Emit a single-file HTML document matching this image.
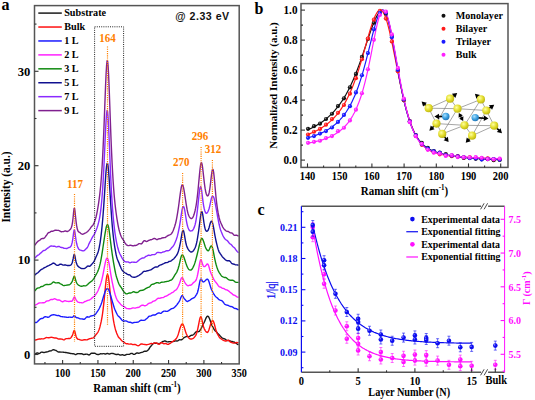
<!DOCTYPE html>
<html><head><meta charset="utf-8"><style>
html,body{margin:0;padding:0;background:#fff;}
body{width:535px;height:400px;overflow:hidden;}
svg{display:block;}
</style></head><body>
<svg width="535" height="400" viewBox="0 0 535 400">
<rect width="535" height="400" fill="#fff"/>
<text transform="translate(5.60,9.80) scale(1,1.0)" font-size="16" text-anchor="middle" fill="#000" font-family="Liberation Serif" font-weight="bold" >a</text>
<path d="M34.60,354.34 L35.10,354.06 L35.60,353.71 L36.10,353.40 L36.60,353.14 L37.10,352.97 L37.60,352.96 L38.10,353.13 L38.60,353.39 L39.10,353.52 L39.60,353.39 L40.10,353.03 L40.60,352.60 L41.10,352.28 L41.60,352.14 L42.10,352.17 L42.60,352.27 L43.10,352.37 L43.60,352.43 L44.10,352.45 L44.60,352.43 L45.10,352.34 L45.60,352.19 L46.10,352.04 L46.60,351.95 L47.10,351.90 L47.60,351.81 L48.10,351.62 L48.60,351.38 L49.10,351.16 L49.60,351.01 L50.10,350.95 L50.60,350.91 L51.10,350.80 L51.60,350.56 L52.10,350.25 L52.60,349.96 L53.10,349.79 L53.60,349.76 L54.10,349.84 L54.60,350.00 L55.10,350.16 L55.60,350.30 L56.10,350.50 L56.60,350.80 L57.10,351.19 L57.60,351.56 L58.10,351.83 L58.60,351.95 L59.10,351.97 L59.60,351.97 L60.10,352.02 L60.60,352.10 L61.10,352.17 L61.60,352.17 L62.10,352.12 L62.60,352.11 L63.10,352.17 L63.60,352.28 L64.10,352.38 L64.60,352.42 L65.10,352.44 L65.60,352.45 L66.10,352.49 L66.60,352.57 L67.10,352.72 L67.60,352.87 L68.10,352.95 L68.60,352.99 L69.10,353.07 L69.60,353.22 L70.10,353.40 L70.60,353.51 L71.10,353.56 L71.60,353.60 L72.10,353.65 L72.60,353.70 L73.10,353.73 L73.60,353.79 L74.10,353.96 L74.60,354.24 L75.10,354.48 L75.60,354.58 L76.10,354.47 L76.60,354.21 L77.10,353.94 L77.60,353.75 L78.10,353.68 L78.60,353.66 L79.10,353.66 L79.60,353.69 L80.10,353.74 L80.60,353.76 L81.10,353.72 L81.60,353.69 L82.10,353.79 L82.60,354.04 L83.10,354.31 L83.60,354.47 L84.10,354.47 L84.60,354.39 L85.10,354.29 L85.60,354.21 L86.10,354.15 L86.60,354.13 L87.10,354.18 L87.60,354.35 L88.10,354.61 L88.60,354.87 L89.10,354.96 L89.60,354.77 L90.10,354.32 L90.60,353.80 L91.10,353.39 L91.60,353.20 L92.10,353.18 L92.60,353.24 L93.10,353.30 L93.60,353.26 L94.10,353.18 L94.60,353.16 L95.10,353.32 L95.60,353.64 L96.10,354.00 L96.60,354.26 L97.10,354.39 L97.60,354.45 L98.10,354.50 L98.60,354.50 L99.10,354.37 L99.60,354.14 L100.10,353.89 L100.60,353.76 L101.10,353.78 L101.60,353.86 L102.10,353.88 L102.60,353.79 L103.10,353.67 L103.60,353.60 L104.10,353.65 L104.60,353.81 L105.10,353.99 L105.60,354.03 L106.10,353.87 L106.60,353.60 L107.10,353.44 L107.60,353.49 L108.10,353.71 L108.60,353.94 L109.10,354.05 L109.60,354.01 L110.10,353.85 L110.60,353.66 L111.10,353.50 L111.60,353.42 L112.10,353.40 L112.60,353.43 L113.10,353.50 L113.60,353.62 L114.10,353.80 L114.60,354.01 L115.10,354.20 L115.60,354.38 L116.10,354.51 L116.60,354.54 L117.10,354.45 L117.60,354.32 L118.10,354.27 L118.60,354.37 L119.10,354.58 L119.60,354.82 L120.10,355.00 L120.60,355.07 L121.10,355.02 L121.60,354.90 L122.10,354.78 L122.60,354.74 L123.10,354.85 L123.60,355.06 L124.10,355.28 L124.60,355.36 L125.10,355.24 L125.60,354.96 L126.10,354.67 L126.60,354.47 L127.10,354.37 L127.60,354.35 L128.10,354.39 L128.60,354.42 L129.10,354.39 L129.60,354.23 L130.10,353.96 L130.60,353.65 L131.10,353.40 L131.60,353.33 L132.10,353.45 L132.60,353.72 L133.10,354.03 L133.60,354.26 L134.10,354.35 L134.60,354.27 L135.10,354.02 L135.60,353.65 L136.10,353.30 L136.60,353.05 L137.10,352.95 L137.60,353.01 L138.10,353.13 L138.60,353.22 L139.10,353.20 L139.60,353.06 L140.10,352.87 L140.60,352.69 L141.10,352.55 L141.60,352.44 L142.10,352.30 L142.60,352.12 L143.10,351.86 L143.60,351.57 L144.10,351.32 L144.60,351.19 L145.10,351.19 L145.60,351.27 L146.10,351.28 L146.60,351.12 L147.10,350.81 L147.60,350.42 L148.10,350.03 L148.60,349.49 L149.10,348.77 L149.60,347.95 L150.10,347.14 L150.60,346.45 L151.10,345.92 L151.60,345.39 L152.10,344.79 L152.60,344.17 L153.10,343.60 L153.60,343.18 L154.10,343.06 L154.60,343.15 L155.10,343.27 L155.60,343.34 L156.10,343.30 L156.60,343.25 L157.10,343.30 L157.60,343.46 L158.10,343.62 L158.60,343.65 L159.10,343.56 L159.60,343.41 L160.10,343.23 L160.60,342.99 L161.10,342.68 L161.60,342.32 L162.10,341.97 L162.60,341.68 L163.10,341.47 L163.60,341.30 L164.10,341.16 L164.60,341.02 L165.10,340.98 L165.60,341.10 L166.10,341.36 L166.60,341.65 L167.10,341.84 L167.60,341.91 L168.10,341.86 L168.60,341.77 L169.10,341.69 L169.60,341.65 L170.10,341.65 L170.60,341.66 L171.10,341.65 L171.60,341.63 L172.10,341.62 L172.60,341.62 L173.10,341.56 L173.60,341.43 L174.10,341.25 L174.60,341.08 L175.10,340.95 L175.60,340.89 L176.10,340.91 L176.60,340.95 L177.10,340.95 L177.60,340.84 L178.10,340.59 L178.60,340.25 L179.10,339.94 L179.60,339.77 L180.10,339.76 L180.60,339.84 L181.10,339.88 L181.60,339.77 L182.10,339.48 L182.60,339.01 L183.10,338.46 L183.60,337.95 L184.10,337.56 L184.60,337.29 L185.10,337.08 L185.60,336.88 L186.10,336.69 L186.60,336.53 L187.10,336.45 L187.60,336.49 L188.10,336.61 L188.60,336.71 L189.10,336.67 L189.60,336.42 L190.10,336.01 L190.60,335.59 L191.10,335.32 L191.60,335.23 L192.10,335.20 L192.60,335.08 L193.10,334.82 L193.60,334.43 L194.10,333.95 L194.60,333.41 L195.10,332.85 L195.60,332.33 L196.10,331.91 L196.60,331.65 L197.10,331.55 L197.60,331.58 L198.10,331.67 L198.60,331.69 L199.10,331.47 L199.60,330.98 L200.10,330.26 L200.60,329.44 L201.10,328.55 L201.60,327.59 L202.10,326.53 L202.60,325.43 L203.10,324.40 L203.60,323.46 L204.10,322.52 L204.60,321.45 L205.10,320.24 L205.60,319.00 L206.10,317.88 L206.60,317.00 L207.10,316.42 L207.60,316.19 L208.10,316.33 L208.60,316.85 L209.10,317.73 L209.60,318.92 L210.10,320.34 L210.60,321.86 L211.10,323.32 L211.60,324.59 L212.10,325.66 L212.60,326.60 L213.10,327.54 L213.60,328.48 L214.10,329.38 L214.60,330.16 L215.10,330.74 L215.60,331.16 L216.10,331.54 L216.60,332.01 L217.10,332.61 L217.60,333.26 L218.10,333.83 L218.60,334.33 L219.10,334.82 L219.60,335.33 L220.10,335.86 L220.60,336.39 L221.10,336.91 L221.60,337.41 L222.10,337.86 L222.60,338.23 L223.10,338.51 L223.60,338.67 L224.10,338.76 L224.60,338.90 L225.10,339.15 L225.60,339.51 L226.10,339.91 L226.60,340.29 L227.10,340.56 L227.60,340.67 L228.10,340.62 L228.60,340.54 L229.10,340.56 L229.60,340.74 L230.10,341.01 L230.60,341.22 L231.10,341.34 L231.60,341.40 L232.10,341.51 L232.60,341.67 L233.10,341.84 L233.60,341.96 L234.10,342.06 L234.60,342.25 L235.10,342.55 L235.60,342.93 L236.10,343.30 L236.60,343.65 L237.10,343.99 L237.60,344.28 L238.10,344.50 L238.60,344.65" fill="none" stroke="#1a1a1a" stroke-width="1.4" stroke-linejoin="round" />
<path d="M34.60,340.29 L35.10,340.13 L35.60,339.95 L36.10,339.81 L36.60,339.71 L37.10,339.58 L37.60,339.41 L38.10,339.23 L38.60,339.11 L39.10,339.06 L39.60,339.04 L40.10,339.01 L40.60,338.94 L41.10,338.86 L41.60,338.81 L42.10,338.83 L42.60,338.88 L43.10,338.89 L43.60,338.80 L44.10,338.64 L44.60,338.42 L45.10,338.15 L45.60,337.87 L46.10,337.66 L46.60,337.56 L47.10,337.58 L47.60,337.67 L48.10,337.77 L48.60,337.80 L49.10,337.75 L49.60,337.62 L50.10,337.47 L50.60,337.34 L51.10,337.29 L51.60,337.32 L52.10,337.41 L52.60,337.50 L53.10,337.60 L53.60,337.71 L54.10,337.84 L54.60,337.95 L55.10,338.01 L55.60,338.01 L56.10,338.02 L56.60,338.12 L57.10,338.36 L57.60,338.66 L58.10,338.90 L58.60,339.00 L59.10,338.99 L59.60,338.96 L60.10,338.97 L60.60,339.02 L61.10,339.07 L61.60,339.11 L62.10,339.19 L62.60,339.39 L63.10,339.67 L63.60,339.88 L64.10,339.86 L64.60,339.56 L65.10,339.14 L65.60,338.82 L66.10,338.66 L66.60,338.64 L67.10,338.64 L67.60,338.60 L68.10,338.56 L68.60,338.52 L69.10,338.51 L69.60,338.46 L70.10,338.30 L70.60,337.96 L71.10,337.44 L71.60,336.78 L72.10,335.92 L72.60,334.78 L73.10,333.26 L73.60,331.58 L74.10,330.44 L74.60,330.75 L75.10,332.47 L75.60,334.62 L76.10,336.44 L76.60,337.73 L77.10,338.55 L77.60,339.02 L78.10,339.24 L78.60,339.33 L79.10,339.42 L79.60,339.57 L80.10,339.78 L80.60,339.97 L81.10,340.11 L81.60,340.18 L82.10,340.21 L82.60,340.15 L83.10,340.02 L83.60,339.84 L84.10,339.70 L84.60,339.65 L85.10,339.70 L85.60,339.81 L86.10,339.89 L86.60,339.88 L87.10,339.74 L87.60,339.52 L88.10,339.26 L88.60,339.03 L89.10,338.83 L89.60,338.71 L90.10,338.64 L90.60,338.55 L91.10,338.42 L91.60,338.28 L92.10,338.18 L92.60,338.11 L93.10,337.95 L93.60,337.61 L94.10,337.09 L94.60,336.46 L95.10,335.80 L95.60,335.17 L96.10,334.56 L96.60,333.94 L97.10,333.29 L97.60,332.60 L98.10,331.79 L98.60,330.78 L99.10,329.50 L99.60,327.94 L100.10,326.16 L100.60,324.16 L101.10,321.93 L101.60,319.44 L102.10,316.58 L102.60,313.26 L103.10,309.45 L103.60,305.16 L104.10,300.44 L104.60,295.37 L105.10,290.13 L105.60,285.02 L106.10,280.49 L106.60,277.01 L107.10,274.95 L107.60,274.52 L108.10,275.74 L108.60,278.48 L109.10,282.43 L109.60,287.14 L110.10,292.08 L110.60,296.88 L111.10,301.44 L111.60,305.85 L112.10,310.16 L112.60,314.23 L113.10,317.88 L113.60,321.02 L114.10,323.72 L114.60,326.09 L115.10,328.19 L115.60,330.03 L116.10,331.61 L116.60,332.96 L117.10,334.17 L117.60,335.33 L118.10,336.41 L118.60,337.31 L119.10,337.92 L119.60,338.32 L120.10,338.72 L120.60,339.28 L121.10,339.95 L121.60,340.58 L122.10,341.03 L122.60,341.34 L123.10,341.61 L123.60,341.93 L124.10,342.29 L124.60,342.68 L125.10,343.05 L125.60,343.37 L126.10,343.61 L126.60,343.73 L127.10,343.76 L127.60,343.78 L128.10,343.86 L128.60,344.00 L129.10,344.12 L129.60,344.14 L130.10,344.07 L130.60,344.00 L131.10,344.01 L131.60,344.14 L132.10,344.34 L132.60,344.51 L133.10,344.59 L133.60,344.56 L134.10,344.48 L134.60,344.43 L135.10,344.48 L135.60,344.64 L136.10,344.89 L136.60,345.19 L137.10,345.47 L137.60,345.67 L138.10,345.74 L138.60,345.64 L139.10,345.35 L139.60,344.96 L140.10,344.55 L140.60,344.23 L141.10,344.02 L141.60,343.95 L142.10,344.01 L142.60,344.15 L143.10,344.29 L143.60,344.38 L144.10,344.41 L144.60,344.43 L145.10,344.48 L145.60,344.59 L146.10,344.69 L146.60,344.72 L147.10,344.67 L147.60,344.56 L148.10,344.43 L148.60,344.31 L149.10,344.17 L149.60,344.00 L150.10,343.81 L150.60,343.63 L151.10,343.54 L151.60,343.56 L152.10,343.63 L152.60,343.65 L153.10,343.57 L153.60,343.40 L154.10,343.18 L154.60,342.99 L155.10,342.88 L155.60,342.87 L156.10,342.96 L156.60,343.12 L157.10,343.35 L157.60,343.66 L158.10,343.97 L158.60,344.21 L159.10,344.24 L159.60,344.03 L160.10,343.62 L160.60,343.15 L161.10,342.79 L161.60,342.64 L162.10,342.76 L162.60,343.09 L163.10,343.47 L163.60,343.71 L164.10,343.72 L164.60,343.58 L165.10,343.44 L165.60,343.44 L166.10,343.59 L166.60,343.88 L167.10,344.19 L167.60,344.40 L168.10,344.42 L168.60,344.25 L169.10,343.97 L169.60,343.68 L170.10,343.40 L170.60,343.06 L171.10,342.63 L171.60,342.18 L172.10,341.82 L172.60,341.54 L173.10,341.27 L173.60,340.92 L174.10,340.52 L174.60,340.14 L175.10,339.79 L175.60,339.37 L176.10,338.78 L176.60,338.01 L177.10,337.08 L177.60,335.99 L178.10,334.69 L178.60,333.15 L179.10,331.44 L179.60,329.71 L180.10,328.08 L180.60,326.64 L181.10,325.41 L181.60,324.44 L182.10,323.87 L182.60,323.87 L183.10,324.49 L183.60,325.62 L184.10,327.05 L184.60,328.61 L185.10,330.24 L185.60,331.81 L186.10,333.21 L186.60,334.37 L187.10,335.29 L187.60,336.10 L188.10,336.87 L188.60,337.61 L189.10,338.26 L189.60,338.69 L190.10,338.92 L190.60,339.00 L191.10,339.02 L191.60,338.97 L192.10,338.86 L192.60,338.66 L193.10,338.35 L193.60,337.93 L194.10,337.44 L194.60,336.91 L195.10,336.33 L195.60,335.61 L196.10,334.64 L196.60,333.32 L197.10,331.60 L197.60,329.56 L198.10,327.25 L198.60,324.75 L199.10,322.16 L199.60,319.68 L200.10,317.72 L200.60,316.72 L201.10,316.95 L201.60,318.33 L202.10,320.45 L202.60,322.83 L203.10,325.05 L203.60,326.90 L204.10,328.34 L204.60,329.45 L205.10,330.36 L205.60,331.12 L206.10,331.75 L206.60,332.23 L207.10,332.45 L207.60,332.32 L208.10,331.73 L208.60,330.70 L209.10,329.28 L209.60,327.62 L210.10,325.89 L210.60,324.26 L211.10,322.83 L211.60,321.66 L212.10,320.87 L212.60,320.58 L213.10,320.90 L213.60,321.81 L214.10,323.22 L214.60,325.01 L215.10,327.03 L215.60,329.05 L216.10,330.82 L216.60,332.22 L217.10,333.30 L217.60,334.22 L218.10,335.10 L218.60,336.00 L219.10,336.87 L219.60,337.62 L220.10,338.15 L220.60,338.50 L221.10,338.78 L221.60,339.11 L222.10,339.49 L222.60,339.83 L223.10,340.10 L223.60,340.34 L224.10,340.58 L224.60,340.79 L225.10,340.93 L225.60,340.99 L226.10,340.95 L226.60,340.78 L227.10,340.50 L227.60,340.23 L228.10,340.16 L228.60,340.39 L229.10,340.85 L229.60,341.39 L230.10,341.84 L230.60,342.14 L231.10,342.34 L231.60,342.49 L232.10,342.65 L232.60,342.81 L233.10,342.97 L233.60,343.11 L234.10,343.17 L234.60,343.12 L235.10,342.98 L235.60,342.78 L236.10,342.59 L236.60,342.50 L237.10,342.52 L237.60,342.64 L238.10,342.79 L238.60,342.92" fill="none" stroke="#ff1010" stroke-width="1.4" stroke-linejoin="round" />
<path d="M34.60,322.54 L35.10,322.49 L35.60,322.53 L36.10,322.50 L36.60,322.34 L37.10,322.03 L37.60,321.59 L38.10,321.06 L38.60,320.54 L39.10,320.04 L39.60,319.57 L40.10,319.11 L40.60,318.74 L41.10,318.53 L41.60,318.48 L42.10,318.48 L42.60,318.37 L43.10,318.06 L43.60,317.62 L44.10,317.19 L44.60,316.91 L45.10,316.79 L45.60,316.79 L46.10,316.83 L46.60,316.92 L47.10,317.05 L47.60,317.21 L48.10,317.27 L48.60,317.16 L49.10,316.87 L49.60,316.47 L50.10,316.05 L50.60,315.69 L51.10,315.39 L51.60,315.14 L52.10,314.95 L52.60,314.85 L53.10,314.80 L53.60,314.78 L54.10,314.78 L54.60,314.83 L55.10,314.93 L55.60,315.07 L56.10,315.23 L56.60,315.41 L57.10,315.57 L57.60,315.62 L58.10,315.55 L58.60,315.48 L59.10,315.57 L59.60,315.86 L60.10,316.23 L60.60,316.49 L61.10,316.58 L61.60,316.60 L62.10,316.64 L62.60,316.74 L63.10,316.84 L63.60,316.89 L64.10,316.90 L64.60,316.93 L65.10,317.00 L65.60,317.07 L66.10,317.14 L66.60,317.23 L67.10,317.33 L67.60,317.38 L68.10,317.34 L68.60,317.23 L69.10,317.14 L69.60,317.12 L70.10,317.15 L70.60,317.21 L71.10,317.31 L71.60,317.40 L72.10,317.38 L72.60,317.15 L73.10,316.68 L73.60,316.07 L74.10,315.61 L74.60,315.69 L75.10,316.29 L75.60,316.98 L76.10,317.47 L76.60,317.70 L77.10,317.77 L77.60,317.82 L78.10,317.93 L78.60,318.13 L79.10,318.37 L79.60,318.61 L80.10,318.79 L80.60,318.89 L81.10,318.91 L81.60,318.90 L82.10,318.93 L82.60,319.03 L83.10,319.18 L83.60,319.30 L84.10,319.29 L84.60,319.08 L85.10,318.66 L85.60,318.12 L86.10,317.54 L86.60,317.05 L87.10,316.79 L87.60,316.81 L88.10,316.98 L88.60,317.10 L89.10,317.01 L89.60,316.76 L90.10,316.46 L90.60,316.20 L91.10,316.00 L91.60,315.84 L92.10,315.73 L92.60,315.63 L93.10,315.55 L93.60,315.42 L94.10,315.21 L94.60,314.89 L95.10,314.48 L95.60,313.98 L96.10,313.39 L96.60,312.69 L97.10,311.94 L97.60,311.18 L98.10,310.44 L98.60,309.66 L99.10,308.76 L99.60,307.75 L100.10,306.65 L100.60,305.50 L101.10,304.27 L101.60,302.89 L102.10,301.32 L102.60,299.62 L103.10,297.89 L103.60,296.22 L104.10,294.67 L104.60,293.21 L105.10,291.85 L105.60,290.65 L106.10,289.71 L106.60,289.05 L107.10,288.68 L107.60,288.61 L108.10,288.93 L108.60,289.68 L109.10,290.81 L109.60,292.23 L110.10,293.83 L110.60,295.55 L111.10,297.31 L111.60,299.05 L112.10,300.73 L112.60,302.39 L113.10,304.04 L113.60,305.67 L114.10,307.25 L114.60,308.71 L115.10,310.02 L115.60,311.17 L116.10,312.22 L116.60,313.27 L117.10,314.28 L117.60,315.18 L118.10,315.88 L118.60,316.39 L119.10,316.83 L119.60,317.30 L120.10,317.84 L120.60,318.45 L121.10,319.06 L121.60,319.67 L122.10,320.21 L122.60,320.66 L123.10,320.97 L123.60,321.12 L124.10,321.09 L124.60,320.95 L125.10,320.84 L125.60,320.86 L126.10,320.98 L126.60,321.13 L127.10,321.32 L127.60,321.58 L128.10,321.87 L128.60,322.09 L129.10,322.19 L129.60,322.20 L130.10,322.22 L130.60,322.31 L131.10,322.51 L131.60,322.75 L132.10,322.93 L132.60,322.98 L133.10,322.87 L133.60,322.68 L134.10,322.50 L134.60,322.38 L135.10,322.35 L135.60,322.36 L136.10,322.37 L136.60,322.32 L137.10,322.22 L137.60,322.11 L138.10,321.98 L138.60,321.78 L139.10,321.47 L139.60,321.06 L140.10,320.63 L140.60,320.33 L141.10,320.21 L141.60,320.24 L142.10,320.31 L142.60,320.34 L143.10,320.35 L143.60,320.35 L144.10,320.30 L144.60,320.14 L145.10,319.83 L145.60,319.43 L146.10,319.02 L146.60,318.64 L147.10,318.24 L147.60,317.76 L148.10,317.20 L148.60,316.64 L149.10,316.24 L149.60,316.09 L150.10,316.10 L150.60,316.10 L151.10,315.94 L151.60,315.63 L152.10,315.32 L152.60,315.11 L153.10,315.00 L153.60,314.96 L154.10,314.98 L154.60,314.99 L155.10,314.93 L155.60,314.75 L156.10,314.43 L156.60,314.05 L157.10,313.67 L157.60,313.38 L158.10,313.16 L158.60,313.02 L159.10,312.97 L159.60,313.04 L160.10,313.21 L160.60,313.32 L161.10,313.22 L161.60,312.85 L162.10,312.35 L162.60,311.88 L163.10,311.52 L163.60,311.29 L164.10,311.16 L164.60,311.12 L165.10,311.15 L165.60,311.22 L166.10,311.30 L166.60,311.35 L167.10,311.34 L167.60,311.22 L168.10,311.00 L168.60,310.68 L169.10,310.32 L169.60,309.95 L170.10,309.59 L170.60,309.24 L171.10,308.94 L171.60,308.72 L172.10,308.56 L172.60,308.44 L173.10,308.28 L173.60,308.04 L174.10,307.70 L174.60,307.25 L175.10,306.72 L175.60,306.17 L176.10,305.65 L176.60,305.11 L177.10,304.48 L177.60,303.77 L178.10,303.06 L178.60,302.38 L179.10,301.65 L179.60,300.74 L180.10,299.60 L180.60,298.27 L181.10,296.95 L181.60,295.95 L182.10,295.57 L182.60,295.89 L183.10,296.69 L183.60,297.62 L184.10,298.42 L184.60,299.03 L185.10,299.57 L185.60,300.14 L186.10,300.74 L186.60,301.24 L187.10,301.50 L187.60,301.47 L188.10,301.21 L188.60,300.87 L189.10,300.56 L189.60,300.31 L190.10,300.04 L190.60,299.69 L191.10,299.29 L191.60,298.90 L192.10,298.60 L192.60,298.39 L193.10,298.21 L193.60,298.02 L194.10,297.72 L194.60,297.24 L195.10,296.58 L195.60,295.81 L196.10,295.07 L196.60,294.34 L197.10,293.44 L197.60,292.13 L198.10,290.28 L198.60,287.94 L199.10,285.29 L199.60,282.64 L200.10,280.45 L200.60,279.20 L201.10,279.05 L201.60,279.70 L202.10,280.65 L202.60,281.47 L203.10,281.92 L203.60,281.95 L204.10,281.68 L204.60,281.28 L205.10,280.84 L205.60,280.37 L206.10,279.86 L206.60,279.39 L207.10,279.13 L207.60,279.22 L208.10,279.73 L208.60,280.69 L209.10,282.04 L209.60,283.67 L210.10,285.38 L210.60,287.01 L211.10,288.45 L211.60,289.68 L212.10,290.75 L212.60,291.75 L213.10,292.74 L213.60,293.67 L214.10,294.50 L214.60,295.22 L215.10,295.87 L215.60,296.44 L216.10,296.92 L216.60,297.33 L217.10,297.72 L217.60,298.15 L218.10,298.65 L218.60,299.16 L219.10,299.61 L219.60,299.96 L220.10,300.18 L220.60,300.32 L221.10,300.42 L221.60,300.59 L222.10,300.89 L222.60,301.37 L223.10,302.00 L223.60,302.70 L224.10,303.37 L224.60,303.95 L225.10,304.38 L225.60,304.68 L226.10,304.88 L226.60,305.02 L227.10,305.13 L227.60,305.27 L228.10,305.46 L228.60,305.70 L229.10,305.97 L229.60,306.19 L230.10,306.35 L230.60,306.46 L231.10,306.55 L231.60,306.65 L232.10,306.79 L232.60,307.00 L233.10,307.31 L233.60,307.71 L234.10,308.10 L234.60,308.38 L235.10,308.51 L235.60,308.56 L236.10,308.62 L236.60,308.78 L237.10,309.06 L237.60,309.39 L238.10,309.71 L238.60,310.00" fill="none" stroke="#1a1aff" stroke-width="1.4" stroke-linejoin="round" />
<path d="M34.60,305.43 L35.10,305.16 L35.60,304.91 L36.10,304.67 L36.60,304.41 L37.10,304.10 L37.60,303.77 L38.10,303.49 L38.60,303.24 L39.10,303.03 L39.60,302.88 L40.10,302.83 L40.60,302.86 L41.10,302.90 L41.60,302.92 L42.10,302.89 L42.60,302.81 L43.10,302.74 L43.60,302.71 L44.10,302.69 L44.60,302.56 L45.10,302.24 L45.60,301.80 L46.10,301.36 L46.60,301.07 L47.10,300.93 L47.60,300.89 L48.10,300.86 L48.60,300.76 L49.10,300.54 L49.60,300.23 L50.10,299.88 L50.60,299.61 L51.10,299.49 L51.60,299.50 L52.10,299.53 L52.60,299.49 L53.10,299.34 L53.60,299.12 L54.10,298.91 L54.60,298.80 L55.10,298.87 L55.60,299.09 L56.10,299.39 L56.60,299.70 L57.10,299.93 L57.60,300.03 L58.10,300.01 L58.60,299.96 L59.10,300.00 L59.60,300.17 L60.10,300.44 L60.60,300.78 L61.10,301.13 L61.60,301.46 L62.10,301.70 L62.60,301.74 L63.10,301.58 L63.60,301.28 L64.10,300.99 L64.60,300.81 L65.10,300.79 L65.60,300.90 L66.10,301.06 L66.60,301.19 L67.10,301.28 L67.60,301.35 L68.10,301.42 L68.60,301.49 L69.10,301.47 L69.60,301.36 L70.10,301.23 L70.60,301.20 L71.10,301.28 L71.60,301.29 L72.10,301.05 L72.60,300.41 L73.10,299.38 L73.60,298.13 L74.10,297.13 L74.60,296.99 L75.10,297.72 L75.60,298.80 L76.10,299.82 L76.60,300.67 L77.10,301.33 L77.60,301.80 L78.10,302.10 L78.60,302.29 L79.10,302.44 L79.60,302.54 L80.10,302.59 L80.60,302.62 L81.10,302.67 L81.60,302.75 L82.10,302.84 L82.60,302.85 L83.10,302.70 L83.60,302.39 L84.10,302.03 L84.60,301.71 L85.10,301.49 L85.60,301.29 L86.10,301.05 L86.60,300.78 L87.10,300.57 L87.60,300.44 L88.10,300.34 L88.60,300.19 L89.10,300.00 L89.60,299.78 L90.10,299.53 L90.60,299.22 L91.10,298.83 L91.60,298.37 L92.10,297.89 L92.60,297.45 L93.10,297.07 L93.60,296.74 L94.10,296.40 L94.60,295.95 L95.10,295.35 L95.60,294.64 L96.10,293.89 L96.60,293.14 L97.10,292.36 L97.60,291.48 L98.10,290.45 L98.60,289.28 L99.10,288.03 L99.60,286.77 L100.10,285.46 L100.60,284.01 L101.10,282.38 L101.60,280.57 L102.10,278.58 L102.60,276.40 L103.10,274.00 L103.60,271.41 L104.10,268.73 L104.60,266.07 L105.10,263.57 L105.60,261.37 L106.10,259.63 L106.60,258.50 L107.10,258.09 L107.60,258.46 L108.10,259.57 L108.60,261.35 L109.10,263.74 L109.60,266.62 L110.10,269.79 L110.60,273.02 L111.10,276.10 L111.60,278.93 L112.10,281.51 L112.60,283.93 L113.10,286.25 L113.60,288.50 L114.10,290.64 L114.60,292.63 L115.10,294.45 L115.60,296.11 L116.10,297.56 L116.60,298.77 L117.10,299.77 L117.60,300.59 L118.10,301.29 L118.60,301.91 L119.10,302.49 L119.60,303.06 L120.10,303.65 L120.60,304.23 L121.10,304.78 L121.60,305.28 L122.10,305.68 L122.60,305.97 L123.10,306.19 L123.60,306.38 L124.10,306.60 L124.60,306.92 L125.10,307.34 L125.60,307.80 L126.10,308.21 L126.60,308.47 L127.10,308.58 L127.60,308.61 L128.10,308.64 L128.60,308.71 L129.10,308.79 L129.60,308.80 L130.10,308.74 L130.60,308.63 L131.10,308.50 L131.60,308.35 L132.10,308.15 L132.60,307.97 L133.10,307.87 L133.60,307.91 L134.10,308.03 L134.60,308.12 L135.10,308.11 L135.60,307.98 L136.10,307.81 L136.60,307.67 L137.10,307.57 L137.60,307.54 L138.10,307.52 L138.60,307.42 L139.10,307.19 L139.60,306.82 L140.10,306.40 L140.60,306.01 L141.10,305.67 L141.60,305.39 L142.10,305.19 L142.60,305.12 L143.10,305.22 L143.60,305.43 L144.10,305.64 L144.60,305.76 L145.10,305.75 L145.60,305.64 L146.10,305.44 L146.60,305.12 L147.10,304.68 L147.60,304.21 L148.10,303.80 L148.60,303.50 L149.10,303.28 L149.60,303.12 L150.10,303.01 L150.60,302.92 L151.10,302.78 L151.60,302.50 L152.10,302.07 L152.60,301.61 L153.10,301.25 L153.60,301.07 L154.10,301.01 L154.60,300.93 L155.10,300.71 L155.60,300.33 L156.10,299.88 L156.60,299.38 L157.10,298.90 L157.60,298.50 L158.10,298.28 L158.60,298.26 L159.10,298.32 L159.60,298.32 L160.10,298.20 L160.60,298.01 L161.10,297.84 L161.60,297.73 L162.10,297.66 L162.60,297.59 L163.10,297.48 L163.60,297.28 L164.10,297.01 L164.60,296.71 L165.10,296.46 L165.60,296.29 L166.10,296.15 L166.60,295.99 L167.10,295.73 L167.60,295.37 L168.10,294.96 L168.60,294.59 L169.10,294.30 L169.60,294.07 L170.10,293.85 L170.60,293.57 L171.10,293.27 L171.60,292.98 L172.10,292.71 L172.60,292.44 L173.10,292.12 L173.60,291.71 L174.10,291.24 L174.60,290.80 L175.10,290.45 L175.60,290.17 L176.10,289.83 L176.60,289.31 L177.10,288.59 L177.60,287.73 L178.10,286.77 L178.60,285.75 L179.10,284.63 L179.60,283.33 L180.10,281.82 L180.60,280.21 L181.10,278.74 L181.60,277.76 L182.10,277.51 L182.60,277.98 L183.10,278.91 L183.60,280.00 L184.10,281.05 L184.60,282.00 L185.10,282.85 L185.60,283.60 L186.10,284.27 L186.60,284.85 L187.10,285.31 L187.60,285.60 L188.10,285.70 L188.60,285.61 L189.10,285.42 L189.60,285.26 L190.10,285.20 L190.60,285.18 L191.10,285.05 L191.60,284.69 L192.10,284.13 L192.60,283.51 L193.10,282.95 L193.60,282.49 L194.10,282.10 L194.60,281.73 L195.10,281.32 L195.60,280.77 L196.10,279.93 L196.60,278.67 L197.10,276.92 L197.60,274.76 L198.10,272.26 L198.60,269.51 L199.10,266.57 L199.60,263.63 L200.10,261.16 L200.60,259.76 L201.10,259.76 L201.60,260.93 L202.10,262.65 L202.60,264.33 L203.10,265.58 L203.60,266.31 L204.10,266.60 L204.60,266.57 L205.10,266.32 L205.60,265.87 L206.10,265.25 L206.60,264.57 L207.10,264.06 L207.60,263.97 L208.10,264.50 L208.60,265.63 L209.10,267.22 L209.60,269.00 L210.10,270.71 L210.60,272.21 L211.10,273.48 L211.60,274.59 L212.10,275.65 L212.60,276.70 L213.10,277.79 L213.60,278.85 L214.10,279.82 L214.60,280.64 L215.10,281.34 L215.60,282.00 L216.10,282.64 L216.60,283.28 L217.10,283.93 L217.60,284.62 L218.10,285.34 L218.60,286.01 L219.10,286.54 L219.60,286.83 L220.10,286.96 L220.60,287.08 L221.10,287.35 L221.60,287.75 L222.10,288.12 L222.60,288.31 L223.10,288.37 L223.60,288.45 L224.10,288.66 L224.60,288.99 L225.10,289.34 L225.60,289.61 L226.10,289.78 L226.60,289.88 L227.10,290.02 L227.60,290.24 L228.10,290.57 L228.60,290.96 L229.10,291.37 L229.60,291.80 L230.10,292.23 L230.60,292.62 L231.10,292.99 L231.60,293.39 L232.10,293.85 L232.60,294.34 L233.10,294.75 L233.60,295.00 L234.10,295.15 L234.60,295.28 L235.10,295.50 L235.60,295.82 L236.10,296.20 L236.60,296.59 L237.10,296.91 L237.60,297.12 L238.10,297.22 L238.60,297.33" fill="none" stroke="#ff20ff" stroke-width="1.4" stroke-linejoin="round" />
<path d="M34.60,290.87 L35.10,290.44 L35.60,289.90 L36.10,289.34 L36.60,288.81 L37.10,288.37 L37.60,288.08 L38.10,287.95 L38.60,287.92 L39.10,287.84 L39.60,287.61 L40.10,287.24 L40.60,286.85 L41.10,286.57 L41.60,286.47 L42.10,286.45 L42.60,286.37 L43.10,286.14 L43.60,285.77 L44.10,285.36 L44.60,285.03 L45.10,284.81 L45.60,284.67 L46.10,284.55 L46.60,284.46 L47.10,284.44 L47.60,284.51 L48.10,284.60 L48.60,284.63 L49.10,284.55 L49.60,284.39 L50.10,284.22 L50.60,284.05 L51.10,283.82 L51.60,283.48 L52.10,283.03 L52.60,282.54 L53.10,282.15 L53.60,282.00 L54.10,282.15 L54.60,282.46 L55.10,282.74 L55.60,282.88 L56.10,282.91 L56.60,282.90 L57.10,282.87 L57.60,282.80 L58.10,282.72 L58.60,282.72 L59.10,282.92 L59.60,283.28 L60.10,283.65 L60.60,283.92 L61.10,284.11 L61.60,284.32 L62.10,284.64 L62.60,285.03 L63.10,285.39 L63.60,285.58 L64.10,285.58 L64.60,285.50 L65.10,285.42 L65.60,285.37 L66.10,285.29 L66.60,285.18 L67.10,285.07 L67.60,284.99 L68.10,284.95 L68.60,284.90 L69.10,284.78 L69.60,284.55 L70.10,284.21 L70.60,283.75 L71.10,283.17 L71.60,282.48 L72.10,281.63 L72.60,280.53 L73.10,279.09 L73.60,277.43 L74.10,276.21 L74.60,276.36 L75.10,277.89 L75.60,279.87 L76.10,281.54 L76.60,282.76 L77.10,283.62 L77.60,284.24 L78.10,284.71 L78.60,285.09 L79.10,285.42 L79.60,285.71 L80.10,285.94 L80.60,286.13 L81.10,286.25 L81.60,286.28 L82.10,286.20 L82.60,286.05 L83.10,285.90 L83.60,285.81 L84.10,285.81 L84.60,285.86 L85.10,285.89 L85.60,285.82 L86.10,285.60 L86.60,285.27 L87.10,284.86 L87.60,284.41 L88.10,283.92 L88.60,283.45 L89.10,283.04 L89.60,282.67 L90.10,282.29 L90.60,281.91 L91.10,281.53 L91.60,281.14 L92.10,280.67 L92.60,280.11 L93.10,279.48 L93.60,278.79 L94.10,278.01 L94.60,277.17 L95.10,276.30 L95.60,275.44 L96.10,274.59 L96.60,273.70 L97.10,272.76 L97.60,271.75 L98.10,270.62 L98.60,269.28 L99.10,267.71 L99.60,265.91 L100.10,263.90 L100.60,261.64 L101.10,259.08 L101.60,256.22 L102.10,253.12 L102.60,249.86 L103.10,246.52 L103.60,243.15 L104.10,239.79 L104.60,236.51 L105.10,233.39 L105.60,230.50 L106.10,227.97 L106.60,226.02 L107.10,224.85 L107.60,224.65 L108.10,225.52 L108.60,227.42 L109.10,230.23 L109.60,233.77 L110.10,237.76 L110.60,241.85 L111.10,245.83 L111.60,249.62 L112.10,253.24 L112.60,256.66 L113.10,259.84 L113.60,262.79 L114.10,265.61 L114.60,268.36 L115.10,271.00 L115.60,273.40 L116.10,275.45 L116.60,277.20 L117.10,278.80 L117.60,280.36 L118.10,281.83 L118.60,283.16 L119.10,284.30 L119.60,285.24 L120.10,286.01 L120.60,286.68 L121.10,287.36 L121.60,288.12 L122.10,288.96 L122.60,289.81 L123.10,290.61 L123.60,291.32 L124.10,291.98 L124.60,292.60 L125.10,293.14 L125.60,293.53 L126.10,293.75 L126.60,293.83 L127.10,293.79 L127.60,293.65 L128.10,293.44 L128.60,293.21 L129.10,293.05 L129.60,293.00 L130.10,293.00 L130.60,292.97 L131.10,292.85 L131.60,292.66 L132.10,292.42 L132.60,292.16 L133.10,291.92 L133.60,291.78 L134.10,291.80 L134.60,292.00 L135.10,292.27 L135.60,292.47 L136.10,292.55 L136.60,292.52 L137.10,292.46 L137.60,292.35 L138.10,292.12 L138.60,291.72 L139.10,291.27 L139.60,290.88 L140.10,290.65 L140.60,290.54 L141.10,290.47 L141.60,290.38 L142.10,290.27 L142.60,290.20 L143.10,290.13 L143.60,290.00 L144.10,289.74 L144.60,289.37 L145.10,289.00 L145.60,288.67 L146.10,288.38 L146.60,288.09 L147.10,287.81 L147.60,287.56 L148.10,287.37 L148.60,287.24 L149.10,287.09 L149.60,286.77 L150.10,286.24 L150.60,285.58 L151.10,284.96 L151.60,284.54 L152.10,284.35 L152.60,284.28 L153.10,284.21 L153.60,284.03 L154.10,283.79 L154.60,283.54 L155.10,283.33 L155.60,283.14 L156.10,282.94 L156.60,282.73 L157.10,282.59 L157.60,282.58 L158.10,282.73 L158.60,282.96 L159.10,283.11 L159.60,283.08 L160.10,282.89 L160.60,282.65 L161.10,282.45 L161.60,282.29 L162.10,282.18 L162.60,282.15 L163.10,282.16 L163.60,282.16 L164.10,282.08 L164.60,281.93 L165.10,281.77 L165.60,281.65 L166.10,281.57 L166.60,281.50 L167.10,281.43 L167.60,281.33 L168.10,281.20 L168.60,281.06 L169.10,280.87 L169.60,280.66 L170.10,280.44 L170.60,280.24 L171.10,280.05 L171.60,279.80 L172.10,279.39 L172.60,278.76 L173.10,277.98 L173.60,277.14 L174.10,276.30 L174.60,275.49 L175.10,274.71 L175.60,273.97 L176.10,273.21 L176.60,272.36 L177.10,271.35 L177.60,270.13 L178.10,268.70 L178.60,267.06 L179.10,265.20 L179.60,263.12 L180.10,260.89 L180.60,258.69 L181.10,256.81 L181.60,255.49 L182.10,254.88 L182.60,254.95 L183.10,255.57 L183.60,256.58 L184.10,257.84 L184.60,259.29 L185.10,260.82 L185.60,262.35 L186.10,263.80 L186.60,265.15 L187.10,266.38 L187.60,267.48 L188.10,268.41 L188.60,269.13 L189.10,269.61 L189.60,269.90 L190.10,270.05 L190.60,270.09 L191.10,269.96 L191.60,269.62 L192.10,269.04 L192.60,268.24 L193.10,267.26 L193.60,266.15 L194.10,264.95 L194.60,263.64 L195.10,262.17 L195.60,260.51 L196.10,258.68 L196.60,256.77 L197.10,254.78 L197.60,252.71 L198.10,250.54 L198.60,248.35 L199.10,246.22 L199.60,244.18 L200.10,242.23 L200.60,240.48 L201.10,239.17 L201.60,238.52 L202.10,238.55 L202.60,239.16 L203.10,240.20 L203.60,241.53 L204.10,243.04 L204.60,244.64 L205.10,246.19 L205.60,247.56 L206.10,248.65 L206.60,249.48 L207.10,250.11 L207.60,250.56 L208.10,250.74 L208.60,250.51 L209.10,249.81 L209.60,248.71 L210.10,247.49 L210.60,246.44 L211.10,245.85 L211.60,245.92 L212.10,246.73 L212.60,248.27 L213.10,250.41 L213.60,252.94 L214.10,255.58 L214.60,258.13 L215.10,260.46 L215.60,262.57 L216.10,264.49 L216.60,266.22 L217.10,267.78 L217.60,269.16 L218.10,270.36 L218.60,271.41 L219.10,272.34 L219.60,273.18 L220.10,273.96 L220.60,274.71 L221.10,275.39 L221.60,275.95 L222.10,276.37 L222.60,276.70 L223.10,276.97 L223.60,277.20 L224.10,277.36 L224.60,277.44 L225.10,277.47 L225.60,277.52 L226.10,277.68 L226.60,278.00 L227.10,278.42 L227.60,278.87 L228.10,279.26 L228.60,279.57 L229.10,279.81 L229.60,279.99 L230.10,280.14 L230.60,280.24 L231.10,280.27 L231.60,280.25 L232.10,280.22 L232.60,280.25 L233.10,280.40 L233.60,280.67 L234.10,281.02 L234.60,281.43 L235.10,281.83 L235.60,282.14 L236.10,282.31 L236.60,282.35 L237.10,282.33 L237.60,282.34 L238.10,282.40 L238.60,282.48" fill="none" stroke="#108a10" stroke-width="1.4" stroke-linejoin="round" />
<path d="M34.60,275.32 L35.10,274.82 L35.60,274.32 L36.10,273.87 L36.60,273.51 L37.10,273.21 L37.60,272.91 L38.10,272.54 L38.60,272.08 L39.10,271.54 L39.60,270.98 L40.10,270.48 L40.60,270.05 L41.10,269.68 L41.60,269.37 L42.10,269.08 L42.60,268.80 L43.10,268.52 L43.60,268.20 L44.10,267.88 L44.60,267.56 L45.10,267.29 L45.60,267.05 L46.10,266.79 L46.60,266.51 L47.10,266.25 L47.60,266.03 L48.10,265.86 L48.60,265.68 L49.10,265.44 L49.60,265.15 L50.10,264.88 L50.60,264.65 L51.10,264.42 L51.60,264.13 L52.10,263.74 L52.60,263.35 L53.10,263.10 L53.60,263.06 L54.10,263.24 L54.60,263.57 L55.10,263.97 L55.60,264.40 L56.10,264.79 L56.60,265.09 L57.10,265.28 L57.60,265.34 L58.10,265.27 L58.60,265.07 L59.10,264.78 L59.60,264.48 L60.10,264.24 L60.60,264.15 L61.10,264.19 L61.60,264.36 L62.10,264.60 L62.60,264.86 L63.10,265.04 L63.60,265.09 L64.10,265.03 L64.60,264.95 L65.10,264.94 L65.60,265.03 L66.10,265.17 L66.60,265.32 L67.10,265.43 L67.60,265.49 L68.10,265.52 L68.60,265.52 L69.10,265.51 L69.60,265.45 L70.10,265.31 L70.60,265.09 L71.10,264.72 L71.60,264.08 L72.10,262.97 L72.60,261.26 L73.10,258.95 L73.60,256.36 L74.10,254.54 L74.60,254.80 L75.10,257.02 L75.60,259.73 L76.10,261.99 L76.60,263.64 L77.10,264.85 L77.60,265.74 L78.10,266.37 L78.60,266.79 L79.10,267.10 L79.60,267.40 L80.10,267.74 L80.60,268.08 L81.10,268.33 L81.60,268.46 L82.10,268.52 L82.60,268.59 L83.10,268.67 L83.60,268.67 L84.10,268.53 L84.60,268.29 L85.10,268.03 L85.60,267.76 L86.10,267.41 L86.60,266.94 L87.10,266.43 L87.60,266.07 L88.10,265.97 L88.60,266.10 L89.10,266.27 L89.60,266.27 L90.10,266.01 L90.60,265.54 L91.10,264.99 L91.60,264.45 L92.10,263.89 L92.60,263.33 L93.10,262.73 L93.60,262.05 L94.10,261.22 L94.60,260.22 L95.10,259.10 L95.60,257.94 L96.10,256.80 L96.60,255.69 L97.10,254.58 L97.60,253.38 L98.10,251.98 L98.60,250.24 L99.10,248.08 L99.60,245.50 L100.10,242.54 L100.60,239.17 L101.10,235.32 L101.60,230.92 L102.10,225.98 L102.60,220.51 L103.10,214.48 L103.60,207.85 L104.10,200.60 L104.60,192.87 L105.10,184.96 L105.60,177.38 L106.10,170.79 L106.60,165.92 L107.10,163.36 L107.60,163.47 L108.10,166.24 L108.60,171.32 L109.10,178.10 L109.60,185.87 L110.10,194.05 L110.60,202.20 L111.10,210.01 L111.60,217.24 L112.10,223.73 L112.60,229.43 L113.10,234.40 L113.60,238.76 L114.10,242.62 L114.60,246.07 L115.10,249.17 L115.60,251.98 L116.10,254.50 L116.60,256.67 L117.10,258.44 L117.60,259.82 L118.10,260.98 L118.60,262.12 L119.10,263.36 L119.60,264.65 L120.10,265.90 L120.60,267.07 L121.10,268.19 L121.60,269.24 L122.10,270.13 L122.60,270.81 L123.10,271.32 L123.60,271.73 L124.10,272.11 L124.60,272.47 L125.10,272.78 L125.60,273.06 L126.10,273.34 L126.60,273.69 L127.10,274.10 L127.60,274.47 L128.10,274.69 L128.60,274.75 L129.10,274.77 L129.60,274.89 L130.10,275.19 L130.60,275.64 L131.10,276.17 L131.60,276.63 L132.10,276.93 L132.60,277.08 L133.10,277.16 L133.60,277.20 L134.10,277.22 L134.60,277.19 L135.10,277.10 L135.60,276.99 L136.10,276.86 L136.60,276.65 L137.10,276.37 L137.60,276.08 L138.10,275.82 L138.60,275.58 L139.10,275.29 L139.60,274.95 L140.10,274.60 L140.60,274.26 L141.10,273.93 L141.60,273.53 L142.10,273.02 L142.60,272.43 L143.10,271.87 L143.60,271.49 L144.10,271.34 L144.60,271.32 L145.10,271.34 L145.60,271.31 L146.10,271.19 L146.60,271.02 L147.10,270.87 L147.60,270.75 L148.10,270.63 L148.60,270.48 L149.10,270.31 L149.60,270.17 L150.10,270.06 L150.60,269.94 L151.10,269.73 L151.60,269.43 L152.10,269.04 L152.60,268.65 L153.10,268.30 L153.60,268.00 L154.10,267.70 L154.60,267.39 L155.10,267.14 L155.60,266.98 L156.10,266.93 L156.60,266.95 L157.10,266.96 L157.60,266.84 L158.10,266.54 L158.60,266.09 L159.10,265.63 L159.60,265.27 L160.10,265.05 L160.60,264.91 L161.10,264.76 L161.60,264.55 L162.10,264.31 L162.60,264.08 L163.10,263.87 L163.60,263.67 L164.10,263.45 L164.60,263.18 L165.10,262.90 L165.60,262.69 L166.10,262.60 L166.60,262.59 L167.10,262.57 L167.60,262.41 L168.10,262.10 L168.60,261.74 L169.10,261.48 L169.60,261.34 L170.10,261.25 L170.60,261.10 L171.10,260.82 L171.60,260.44 L172.10,260.03 L172.60,259.64 L173.10,259.26 L173.60,258.86 L174.10,258.40 L174.60,257.83 L175.10,257.20 L175.60,256.56 L176.10,255.93 L176.60,255.26 L177.10,254.46 L177.60,253.41 L178.10,252.08 L178.60,250.47 L179.10,248.61 L179.60,246.52 L180.10,244.17 L180.60,241.54 L181.10,238.65 L181.60,235.67 L182.10,232.96 L182.60,231.00 L183.10,230.27 L183.60,231.01 L184.10,233.06 L184.60,235.90 L185.10,238.96 L185.60,241.76 L186.10,244.05 L186.60,245.80 L187.10,247.13 L187.60,248.19 L188.10,249.08 L188.60,249.85 L189.10,250.51 L189.60,251.05 L190.10,251.49 L190.60,251.81 L191.10,251.97 L191.60,251.95 L192.10,251.79 L192.60,251.50 L193.10,251.06 L193.60,250.44 L194.10,249.67 L194.60,248.75 L195.10,247.69 L195.60,246.43 L196.10,244.87 L196.60,242.91 L197.10,240.47 L197.60,237.60 L198.10,234.43 L198.60,231.04 L199.10,227.44 L199.60,223.59 L200.10,219.59 L200.60,215.84 L201.10,212.96 L201.60,211.55 L202.10,211.89 L202.60,213.82 L203.10,216.86 L203.60,220.38 L204.10,223.75 L204.60,226.56 L205.10,228.64 L205.60,230.03 L206.10,230.85 L206.60,231.24 L207.10,231.27 L207.60,230.96 L208.10,230.27 L208.60,229.12 L209.10,227.51 L209.60,225.62 L210.10,223.78 L210.60,222.29 L211.10,221.39 L211.60,221.19 L212.10,221.76 L212.60,223.11 L213.10,225.16 L213.60,227.75 L214.10,230.65 L214.60,233.60 L215.10,236.39 L215.60,238.94 L216.10,241.26 L216.60,243.42 L217.10,245.45 L217.60,247.37 L218.10,249.13 L218.60,250.63 L219.10,251.82 L219.60,252.72 L220.10,253.47 L220.60,254.16 L221.10,254.87 L221.60,255.62 L222.10,256.35 L222.60,257.01 L223.10,257.57 L223.60,258.07 L224.10,258.55 L224.60,259.03 L225.10,259.51 L225.60,259.94 L226.10,260.30 L226.60,260.55 L227.10,260.68 L227.60,260.72 L228.10,260.71 L228.60,260.69 L229.10,260.74 L229.60,260.94 L230.10,261.34 L230.60,261.91 L231.10,262.57 L231.60,263.20 L232.10,263.67 L232.60,263.92 L233.10,264.00 L233.60,264.06 L234.10,264.21 L234.60,264.44 L235.10,264.68 L235.60,264.86 L236.10,264.91 L236.60,264.88 L237.10,264.85 L237.60,264.94 L238.10,265.15 L238.60,265.39" fill="none" stroke="#101090" stroke-width="1.4" stroke-linejoin="round" />
<path d="M34.60,258.30 L35.10,257.80 L35.60,257.32 L36.10,256.81 L36.60,256.28 L37.10,255.77 L37.60,255.35 L38.10,255.05 L38.60,254.81 L39.10,254.51 L39.60,254.10 L40.10,253.61 L40.60,253.12 L41.10,252.66 L41.60,252.21 L42.10,251.70 L42.60,251.20 L43.10,250.79 L43.60,250.55 L44.10,250.45 L44.60,250.37 L45.10,250.17 L45.60,249.82 L46.10,249.38 L46.60,248.94 L47.10,248.55 L47.60,248.19 L48.10,247.83 L48.60,247.47 L49.10,247.09 L49.60,246.71 L50.10,246.35 L50.60,246.07 L51.10,245.94 L51.60,245.96 L52.10,246.07 L52.60,246.17 L53.10,246.23 L53.60,246.22 L54.10,246.21 L54.60,246.27 L55.10,246.44 L55.60,246.70 L56.10,246.90 L56.60,246.94 L57.10,246.81 L57.60,246.62 L58.10,246.45 L58.60,246.37 L59.10,246.44 L59.60,246.66 L60.10,246.98 L60.60,247.28 L61.10,247.46 L61.60,247.52 L62.10,247.51 L62.60,247.57 L63.10,247.76 L63.60,248.03 L64.10,248.26 L64.60,248.35 L65.10,248.37 L65.60,248.41 L66.10,248.49 L66.60,248.53 L67.10,248.44 L67.60,248.20 L68.10,247.90 L68.60,247.65 L69.10,247.47 L69.60,247.32 L70.10,247.09 L70.60,246.64 L71.10,245.87 L71.60,244.68 L72.10,242.89 L72.60,240.31 L73.10,236.85 L73.60,232.92 L74.10,230.02 L74.60,230.17 L75.10,233.27 L75.60,237.26 L76.10,240.68 L76.60,243.29 L77.10,245.26 L77.60,246.79 L78.10,247.97 L78.60,248.84 L79.10,249.43 L79.60,249.80 L80.10,250.02 L80.60,250.18 L81.10,250.31 L81.60,250.46 L82.10,250.62 L82.60,250.79 L83.10,250.91 L83.60,250.91 L84.10,250.71 L84.60,250.29 L85.10,249.74 L85.60,249.23 L86.10,248.81 L86.60,248.40 L87.10,247.83 L87.60,247.01 L88.10,245.92 L88.60,244.71 L89.10,243.56 L89.60,242.57 L90.10,241.67 L90.60,240.74 L91.10,239.73 L91.60,238.72 L92.10,237.80 L92.60,236.95 L93.10,236.16 L93.60,235.40 L94.10,234.61 L94.60,233.69 L95.10,232.60 L95.60,231.41 L96.10,230.19 L96.60,228.93 L97.10,227.57 L97.60,226.04 L98.10,224.33 L98.60,222.43 L99.10,220.31 L99.60,217.86 L100.10,214.90 L100.60,211.32 L101.10,207.09 L101.60,202.21 L102.10,196.54 L102.60,189.82 L103.10,181.87 L103.60,172.69 L104.10,162.51 L104.60,151.63 L105.10,140.47 L105.60,129.69 L106.10,120.30 L106.60,113.52 L107.10,110.48 L107.60,111.86 L108.10,117.57 L108.60,126.77 L109.10,138.20 L109.60,150.58 L110.10,162.90 L110.60,174.53 L111.10,185.11 L111.60,194.49 L112.10,202.64 L112.60,209.67 L113.10,215.77 L113.60,221.13 L114.10,225.88 L114.60,230.09 L115.10,233.79 L115.60,237.06 L116.10,239.97 L116.60,242.56 L117.10,244.87 L117.60,246.95 L118.10,248.82 L118.60,250.52 L119.10,252.01 L119.60,253.27 L120.10,254.30 L120.60,255.21 L121.10,256.12 L121.60,257.08 L122.10,258.05 L122.60,258.95 L123.10,259.72 L123.60,260.36 L124.10,260.88 L124.60,261.28 L125.10,261.57 L125.60,261.78 L126.10,261.91 L126.60,261.94 L127.10,261.89 L127.60,261.86 L128.10,261.96 L128.60,262.20 L129.10,262.49 L129.60,262.69 L130.10,262.71 L130.60,262.58 L131.10,262.38 L131.60,262.22 L132.10,262.13 L132.60,262.12 L133.10,262.15 L133.60,262.18 L134.10,262.24 L134.60,262.31 L135.10,262.37 L135.60,262.36 L136.10,262.26 L136.60,262.06 L137.10,261.76 L137.60,261.35 L138.10,260.89 L138.60,260.43 L139.10,260.00 L139.60,259.61 L140.10,259.28 L140.60,258.97 L141.10,258.67 L141.60,258.37 L142.10,258.12 L142.60,257.98 L143.10,257.95 L143.60,257.94 L144.10,257.82 L144.60,257.50 L145.10,257.04 L145.60,256.58 L146.10,256.24 L146.60,256.02 L147.10,255.80 L147.60,255.54 L148.10,255.29 L148.60,255.16 L149.10,255.21 L149.60,255.35 L150.10,255.44 L150.60,255.38 L151.10,255.17 L151.60,254.92 L152.10,254.73 L152.60,254.66 L153.10,254.66 L153.60,254.66 L154.10,254.63 L154.60,254.52 L155.10,254.31 L155.60,253.97 L156.10,253.51 L156.60,253.01 L157.10,252.62 L157.60,252.42 L158.10,252.40 L158.60,252.46 L159.10,252.53 L159.60,252.60 L160.10,252.67 L160.60,252.70 L161.10,252.69 L161.60,252.60 L162.10,252.42 L162.60,252.20 L163.10,252.00 L163.60,251.85 L164.10,251.72 L164.60,251.54 L165.10,251.30 L165.60,251.04 L166.10,250.81 L166.60,250.69 L167.10,250.67 L167.60,250.70 L168.10,250.70 L168.60,250.60 L169.10,250.39 L169.60,250.06 L170.10,249.61 L170.60,249.04 L171.10,248.41 L171.60,247.80 L172.10,247.26 L172.60,246.75 L173.10,246.19 L173.60,245.48 L174.10,244.61 L174.60,243.58 L175.10,242.45 L175.60,241.25 L176.10,239.98 L176.60,238.60 L177.10,237.04 L177.60,235.21 L178.10,233.11 L178.60,230.77 L179.10,228.25 L179.60,225.55 L180.10,222.60 L180.60,219.34 L181.10,215.87 L181.60,212.50 L182.10,209.63 L182.60,207.58 L183.10,206.52 L183.60,206.53 L184.10,207.63 L184.60,209.70 L185.10,212.49 L185.60,215.66 L186.10,218.88 L186.60,221.84 L187.10,224.32 L187.60,226.26 L188.10,227.77 L188.60,229.00 L189.10,229.96 L189.60,230.61 L190.10,230.90 L190.60,230.96 L191.10,230.92 L191.60,230.86 L192.10,230.71 L192.60,230.34 L193.10,229.68 L193.60,228.77 L194.10,227.66 L194.60,226.33 L195.10,224.66 L195.60,222.50 L196.10,219.78 L196.60,216.48 L197.10,212.66 L197.60,208.41 L198.10,203.82 L198.60,199.02 L199.10,194.32 L199.60,190.25 L200.10,187.49 L200.60,186.57 L201.10,187.67 L201.60,190.46 L202.10,194.29 L202.60,198.44 L203.10,202.31 L203.60,205.59 L204.10,208.19 L204.60,210.17 L205.10,211.64 L205.60,212.65 L206.10,213.21 L206.60,213.27 L207.10,212.87 L207.60,212.15 L208.10,211.21 L208.60,210.04 L209.10,208.53 L209.60,206.59 L210.10,204.30 L210.60,201.84 L211.10,199.56 L211.60,197.77 L212.10,196.62 L212.60,196.14 L213.10,196.30 L213.60,197.08 L214.10,198.50 L214.60,200.48 L215.10,202.85 L215.60,205.46 L216.10,208.17 L216.60,210.94 L217.10,213.72 L217.60,216.51 L218.10,219.24 L218.60,221.85 L219.10,224.28 L219.60,226.46 L220.10,228.35 L220.60,229.95 L221.10,231.32 L221.60,232.56 L222.10,233.74 L222.60,234.88 L223.10,235.95 L223.60,236.91 L224.10,237.75 L224.60,238.47 L225.10,239.07 L225.60,239.51 L226.10,239.84 L226.60,240.13 L227.10,240.47 L227.60,240.94 L228.10,241.56 L228.60,242.27 L229.10,242.96 L229.60,243.51 L230.10,243.88 L230.60,244.16 L231.10,244.50 L231.60,244.99 L232.10,245.62 L232.60,246.26 L233.10,246.78 L233.60,247.13 L234.10,247.46 L234.60,247.93 L235.10,248.61 L235.60,249.40 L236.10,250.17 L236.60,250.84 L237.10,251.40 L237.60,251.85 L238.10,252.24 L238.60,252.58" fill="none" stroke="#8a2aff" stroke-width="1.4" stroke-linejoin="round" />
<path d="M34.60,245.42 L35.10,244.79 L35.60,244.08 L36.10,243.38 L36.60,242.74 L37.10,242.16 L37.60,241.62 L38.10,241.15 L38.60,240.78 L39.10,240.52 L39.60,240.25 L40.10,239.88 L40.60,239.41 L41.10,238.98 L41.60,238.69 L42.10,238.57 L42.60,238.56 L43.10,238.57 L43.60,238.50 L44.10,238.22 L44.60,237.73 L45.10,237.11 L45.60,236.45 L46.10,235.79 L46.60,235.08 L47.10,234.31 L47.60,233.58 L48.10,233.01 L48.60,232.69 L49.10,232.52 L49.60,232.34 L50.10,232.05 L50.60,231.68 L51.10,231.36 L51.60,231.21 L52.10,231.21 L52.60,231.24 L53.10,231.15 L53.60,230.91 L54.10,230.60 L54.60,230.34 L55.10,230.20 L55.60,230.18 L56.10,230.24 L56.60,230.32 L57.10,230.35 L57.60,230.33 L58.10,230.32 L58.60,230.40 L59.10,230.59 L59.60,230.87 L60.10,231.21 L60.60,231.51 L61.10,231.69 L61.60,231.72 L62.10,231.66 L62.60,231.60 L63.10,231.58 L63.60,231.52 L64.10,231.37 L64.60,231.15 L65.10,230.95 L65.60,230.90 L66.10,231.06 L66.60,231.32 L67.10,231.49 L67.60,231.45 L68.10,231.22 L68.60,230.89 L69.10,230.51 L69.60,230.08 L70.10,229.57 L70.60,228.95 L71.10,228.10 L71.60,226.84 L72.10,224.86 L72.60,221.80 L73.10,217.46 L73.60,212.33 L74.10,208.42 L74.60,208.38 L75.10,212.20 L75.60,217.28 L76.10,221.80 L76.60,225.38 L77.10,228.12 L77.60,230.09 L78.10,231.29 L78.60,231.88 L79.10,232.16 L79.60,232.43 L80.10,232.81 L80.60,233.26 L81.10,233.66 L81.60,233.95 L82.10,234.16 L82.60,234.23 L83.10,234.14 L83.60,233.89 L84.10,233.58 L84.60,233.30 L85.10,233.06 L85.60,232.82 L86.10,232.54 L86.60,232.24 L87.10,231.89 L87.60,231.47 L88.10,230.96 L88.60,230.40 L89.10,229.85 L89.60,229.27 L90.10,228.61 L90.60,227.89 L91.10,227.17 L91.60,226.55 L92.10,226.02 L92.60,225.48 L93.10,224.80 L93.60,223.90 L94.10,222.77 L94.60,221.47 L95.10,220.05 L95.60,218.50 L96.10,216.71 L96.60,214.56 L97.10,212.05 L97.60,209.26 L98.10,206.29 L98.60,203.11 L99.10,199.61 L99.60,195.73 L100.10,191.38 L100.60,186.44 L101.10,180.77 L101.60,174.17 L102.10,166.45 L102.60,157.51 L103.10,147.37 L103.60,136.16 L104.10,124.00 L104.60,111.08 L105.10,97.81 L105.60,85.00 L106.10,73.75 L106.60,65.31 L107.10,60.82 L107.60,60.96 L108.10,65.81 L108.60,74.73 L109.10,86.62 L109.60,100.20 L110.10,114.34 L110.60,128.14 L111.10,141.00 L111.60,152.64 L112.10,163.04 L112.60,172.31 L113.10,180.56 L113.60,187.87 L114.10,194.27 L114.60,199.84 L115.10,204.67 L115.60,208.92 L116.10,212.76 L116.60,216.28 L117.10,219.54 L117.60,222.57 L118.10,225.34 L118.60,227.81 L119.10,229.97 L119.60,231.88 L120.10,233.59 L120.60,235.06 L121.10,236.29 L121.60,237.30 L122.10,238.15 L122.60,238.89 L123.10,239.62 L123.60,240.42 L124.10,241.31 L124.60,242.21 L125.10,243.05 L125.60,243.78 L126.10,244.39 L126.60,244.89 L127.10,245.25 L127.60,245.49 L128.10,245.60 L128.60,245.61 L129.10,245.52 L129.60,245.39 L130.10,245.29 L130.60,245.29 L131.10,245.37 L131.60,245.51 L132.10,245.67 L132.60,245.79 L133.10,245.82 L133.60,245.71 L134.10,245.55 L134.60,245.44 L135.10,245.42 L135.60,245.43 L136.10,245.38 L136.60,245.23 L137.10,244.97 L137.60,244.63 L138.10,244.25 L138.60,243.90 L139.10,243.66 L139.60,243.58 L140.10,243.68 L140.60,243.85 L141.10,243.93 L141.60,243.74 L142.10,243.23 L142.60,242.51 L143.10,241.75 L143.60,241.13 L144.10,240.74 L144.60,240.63 L145.10,240.79 L145.60,241.10 L146.10,241.39 L146.60,241.48 L147.10,241.33 L147.60,241.03 L148.10,240.72 L148.60,240.49 L149.10,240.32 L149.60,240.14 L150.10,239.95 L150.60,239.79 L151.10,239.70 L151.60,239.62 L152.10,239.45 L152.60,239.17 L153.10,238.86 L153.60,238.60 L154.10,238.45 L154.60,238.44 L155.10,238.58 L155.60,238.87 L156.10,239.24 L156.60,239.56 L157.10,239.66 L157.60,239.48 L158.10,239.13 L158.60,238.83 L159.10,238.71 L159.60,238.74 L160.10,238.76 L160.60,238.68 L161.10,238.48 L161.60,238.22 L162.10,237.97 L162.60,237.79 L163.10,237.71 L163.60,237.69 L164.10,237.66 L164.60,237.60 L165.10,237.48 L165.60,237.27 L166.10,236.95 L166.60,236.56 L167.10,236.15 L167.60,235.77 L168.10,235.48 L168.60,235.28 L169.10,235.12 L169.60,234.92 L170.10,234.67 L170.60,234.35 L171.10,233.98 L171.60,233.47 L172.10,232.76 L172.60,231.82 L173.10,230.69 L173.60,229.43 L174.10,228.09 L174.60,226.66 L175.10,225.07 L175.60,223.22 L176.10,221.05 L176.60,218.58 L177.10,215.86 L177.60,212.92 L178.10,209.72 L178.60,206.24 L179.10,202.51 L179.60,198.66 L180.10,194.85 L180.60,191.31 L181.10,188.27 L181.60,185.97 L182.10,184.71 L182.60,184.69 L183.10,185.88 L183.60,187.99 L184.10,190.69 L184.60,193.70 L185.10,196.92 L185.60,200.26 L186.10,203.58 L186.60,206.70 L187.10,209.48 L187.60,211.81 L188.10,213.71 L188.60,215.18 L189.10,216.29 L189.60,217.12 L190.10,217.77 L190.60,218.26 L191.10,218.54 L191.60,218.54 L192.10,218.25 L192.60,217.70 L193.10,216.89 L193.60,215.80 L194.10,214.35 L194.60,212.56 L195.10,210.50 L195.60,208.18 L196.10,205.51 L196.60,202.32 L197.10,198.51 L197.60,194.09 L198.10,189.22 L198.60,184.03 L199.10,178.67 L199.60,173.37 L200.10,168.57 L200.60,164.88 L201.10,162.83 L201.60,162.72 L202.10,164.47 L202.60,167.68 L203.10,171.83 L203.60,176.37 L204.10,180.88 L204.60,184.98 L205.10,188.46 L205.60,191.21 L206.10,193.26 L206.60,194.68 L207.10,195.56 L207.60,195.92 L208.10,195.68 L208.60,194.72 L209.10,192.92 L209.60,190.24 L210.10,186.73 L210.60,182.59 L211.10,178.18 L211.60,174.05 L212.10,170.85 L212.60,169.22 L213.10,169.60 L213.60,172.05 L214.10,176.24 L214.60,181.58 L215.10,187.37 L215.60,193.02 L216.10,198.13 L216.60,202.56 L217.10,206.40 L217.60,209.74 L218.10,212.69 L218.60,215.26 L219.10,217.48 L219.60,219.36 L220.10,220.93 L220.60,222.25 L221.10,223.42 L221.60,224.53 L222.10,225.64 L222.60,226.71 L223.10,227.65 L223.60,228.41 L224.10,229.05 L224.60,229.61 L225.10,230.11 L225.60,230.55 L226.10,230.90 L226.60,231.15 L227.10,231.31 L227.60,231.40 L228.10,231.50 L228.60,231.71 L229.10,232.04 L229.60,232.43 L230.10,232.72 L230.60,232.86 L231.10,232.90 L231.60,232.94 L232.10,233.13 L232.60,233.53 L233.10,234.12 L233.60,234.72 L234.10,235.16 L234.60,235.34 L235.10,235.34 L235.60,235.25 L236.10,235.19 L236.60,235.22 L237.10,235.35 L237.60,235.60 L238.10,235.91 L238.60,236.18" fill="none" stroke="#80208f" stroke-width="1.4" stroke-linejoin="round" />
<rect x="94.6" y="26.8" width="29" height="319.5" fill="none" stroke="#222" stroke-width="1" stroke-dasharray="1,1.2"/>
<line x1="74.50" y1="194.00" x2="74.50" y2="342.00" stroke="#ff8000" stroke-width="1.2" stroke-dasharray="1.1,1.1"/>
<line x1="107.50" y1="46.50" x2="107.50" y2="325.00" stroke="#ff8000" stroke-width="1.2" stroke-dasharray="1.1,1.1"/>
<line x1="182.60" y1="173.00" x2="182.60" y2="338.50" stroke="#ff8000" stroke-width="1.2" stroke-dasharray="1.1,1.1"/>
<line x1="201.10" y1="147.00" x2="201.10" y2="338.50" stroke="#ff8000" stroke-width="1.2" stroke-dasharray="1.1,1.1"/>
<line x1="212.40" y1="160.00" x2="212.40" y2="332.50" stroke="#ff8000" stroke-width="1.2" stroke-dasharray="1.1,1.1"/>
<text transform="translate(75.00,188.30) scale(1,1.13)" font-size="11" text-anchor="middle" fill="#ff8000" font-family="Liberation Serif" font-weight="bold" >117</text>
<text transform="translate(107.50,41.80) scale(1,1.13)" font-size="11" text-anchor="middle" fill="#ff8000" font-family="Liberation Serif" font-weight="bold" >164</text>
<text transform="translate(181.30,166.00) scale(1,1.13)" font-size="11" text-anchor="middle" fill="#ff8000" font-family="Liberation Serif" font-weight="bold" >270</text>
<text transform="translate(200.00,140.00) scale(1,1.13)" font-size="11" text-anchor="middle" fill="#ff8000" font-family="Liberation Serif" font-weight="bold" >296</text>
<text transform="translate(213.00,153.00) scale(1,1.13)" font-size="11" text-anchor="middle" fill="#ff8000" font-family="Liberation Serif" font-weight="bold" >312</text>
<rect x="34.5" y="5.6" width="204.70" height="358.30" fill="none" stroke="#555" stroke-width="1.5"/>
<line x1="44.95" y1="363.90" x2="44.95" y2="361.90" stroke="#333" stroke-width="1.1" />
<line x1="62.61" y1="363.90" x2="62.61" y2="359.90" stroke="#333" stroke-width="1.1" />
<line x1="80.27" y1="363.90" x2="80.27" y2="361.90" stroke="#333" stroke-width="1.1" />
<line x1="97.93" y1="363.90" x2="97.93" y2="359.90" stroke="#333" stroke-width="1.1" />
<line x1="115.59" y1="363.90" x2="115.59" y2="361.90" stroke="#333" stroke-width="1.1" />
<line x1="133.25" y1="363.90" x2="133.25" y2="359.90" stroke="#333" stroke-width="1.1" />
<line x1="150.91" y1="363.90" x2="150.91" y2="361.90" stroke="#333" stroke-width="1.1" />
<line x1="168.57" y1="363.90" x2="168.57" y2="359.90" stroke="#333" stroke-width="1.1" />
<line x1="186.23" y1="363.90" x2="186.23" y2="361.90" stroke="#333" stroke-width="1.1" />
<line x1="203.89" y1="363.90" x2="203.89" y2="359.90" stroke="#333" stroke-width="1.1" />
<line x1="221.55" y1="363.90" x2="221.55" y2="361.90" stroke="#333" stroke-width="1.1" />
<text transform="translate(62.61,377.30) scale(1,1.15)" font-size="10.2" text-anchor="middle" fill="#000" font-family="Liberation Serif" font-weight="bold" >100</text>
<text transform="translate(97.93,377.30) scale(1,1.15)" font-size="10.2" text-anchor="middle" fill="#000" font-family="Liberation Serif" font-weight="bold" >150</text>
<text transform="translate(133.25,377.30) scale(1,1.15)" font-size="10.2" text-anchor="middle" fill="#000" font-family="Liberation Serif" font-weight="bold" >200</text>
<text transform="translate(168.57,377.30) scale(1,1.15)" font-size="10.2" text-anchor="middle" fill="#000" font-family="Liberation Serif" font-weight="bold" >250</text>
<text transform="translate(203.89,377.30) scale(1,1.15)" font-size="10.2" text-anchor="middle" fill="#000" font-family="Liberation Serif" font-weight="bold" >300</text>
<text transform="translate(239.21,377.30) scale(1,1.15)" font-size="10.2" text-anchor="middle" fill="#000" font-family="Liberation Serif" font-weight="bold" >350</text>
<line x1="34.50" y1="354.50" x2="38.50" y2="354.50" stroke="#333" stroke-width="1.1" />
<line x1="34.50" y1="307.30" x2="36.50" y2="307.30" stroke="#333" stroke-width="1.1" />
<line x1="34.50" y1="260.10" x2="38.50" y2="260.10" stroke="#333" stroke-width="1.1" />
<line x1="34.50" y1="212.90" x2="36.50" y2="212.90" stroke="#333" stroke-width="1.1" />
<line x1="34.50" y1="165.70" x2="38.50" y2="165.70" stroke="#333" stroke-width="1.1" />
<line x1="34.50" y1="118.50" x2="36.50" y2="118.50" stroke="#333" stroke-width="1.1" />
<line x1="34.50" y1="71.30" x2="38.50" y2="71.30" stroke="#333" stroke-width="1.1" />
<line x1="34.50" y1="24.10" x2="36.50" y2="24.10" stroke="#333" stroke-width="1.1" />
<text transform="translate(30.40,358.70) scale(1,1.07)" font-size="12.6" text-anchor="end" fill="#000" font-family="Liberation Serif" font-weight="bold" >0</text>
<text transform="translate(30.40,264.30) scale(1,1.07)" font-size="12.6" text-anchor="end" fill="#000" font-family="Liberation Serif" font-weight="bold" >10</text>
<text transform="translate(30.40,169.90) scale(1,1.07)" font-size="12.6" text-anchor="end" fill="#000" font-family="Liberation Serif" font-weight="bold" >20</text>
<text transform="translate(30.40,75.50) scale(1,1.07)" font-size="12.6" text-anchor="end" fill="#000" font-family="Liberation Serif" font-weight="bold" >30</text>
<text transform="translate(137.00,392.00) scale(1,1.13)" font-size="11" text-anchor="middle" fill="#000" font-family="Liberation Serif" font-weight="bold" >Raman shift (cm<tspan dy="-4" font-size="7">-1</tspan><tspan dy="4">)</tspan></text>
<text transform="translate(10.4,187) rotate(-90) scale(1,1.1)" font-size="11.4" text-anchor="middle" font-family="Liberation Serif" font-weight="bold">Intensity (a.u.)</text>
<line x1="38.30" y1="13.10" x2="61.80" y2="13.10" stroke="#1a1a1a" stroke-width="1.5" />
<text transform="translate(64.20,16.00) scale(1,1.11)" font-size="10.2" text-anchor="start" fill="#000" font-family="Liberation Serif" font-weight="bold" >Substrate</text>
<line x1="38.30" y1="27.03" x2="61.80" y2="27.03" stroke="#ff1010" stroke-width="1.5" />
<text transform="translate(64.20,29.93) scale(1,1.11)" font-size="10.2" text-anchor="start" fill="#000" font-family="Liberation Serif" font-weight="bold" >Bulk</text>
<line x1="38.30" y1="40.96" x2="61.80" y2="40.96" stroke="#1a1aff" stroke-width="1.5" />
<text transform="translate(64.20,43.86) scale(1,1.11)" font-size="10.2" text-anchor="start" fill="#000" font-family="Liberation Serif" font-weight="bold" >1 L</text>
<line x1="38.30" y1="54.89" x2="61.80" y2="54.89" stroke="#ff20ff" stroke-width="1.5" />
<text transform="translate(64.20,57.79) scale(1,1.11)" font-size="10.2" text-anchor="start" fill="#000" font-family="Liberation Serif" font-weight="bold" >2 L</text>
<line x1="38.30" y1="68.82" x2="61.80" y2="68.82" stroke="#108a10" stroke-width="1.5" />
<text transform="translate(64.20,71.72) scale(1,1.11)" font-size="10.2" text-anchor="start" fill="#000" font-family="Liberation Serif" font-weight="bold" >3 L</text>
<line x1="38.30" y1="82.75" x2="61.80" y2="82.75" stroke="#101090" stroke-width="1.5" />
<text transform="translate(64.20,85.65) scale(1,1.11)" font-size="10.2" text-anchor="start" fill="#000" font-family="Liberation Serif" font-weight="bold" >5 L</text>
<line x1="38.30" y1="96.68" x2="61.80" y2="96.68" stroke="#8a2aff" stroke-width="1.5" />
<text transform="translate(64.20,99.58) scale(1,1.11)" font-size="10.2" text-anchor="start" fill="#000" font-family="Liberation Serif" font-weight="bold" >7 L</text>
<line x1="38.30" y1="110.61" x2="61.80" y2="110.61" stroke="#80208f" stroke-width="1.5" />
<text transform="translate(64.20,113.51) scale(1,1.11)" font-size="10.2" text-anchor="start" fill="#000" font-family="Liberation Serif" font-weight="bold" >9 L</text>
<text x="175.3" y="20.4" font-size="10.6" letter-spacing="0.5" fill="#111" font-family="Liberation Sans" font-weight="bold">@ 2.33 eV</text>
<text transform="translate(259.00,13.80) scale(1,1.0)" font-size="16" text-anchor="middle" fill="#000" font-family="Liberation Serif" font-weight="bold" >b</text>
<path d="M307.50,129.92 L308.31,129.57 L309.11,129.21 L309.92,128.85 L310.72,128.47 L311.52,128.09 L312.33,127.69 L313.13,127.29 L313.94,126.87 L314.75,126.44 L315.55,126.00 L316.36,125.54 L317.16,125.08 L317.96,124.60 L318.77,124.10 L319.57,123.59 L320.38,123.07 L321.19,122.53 L321.99,121.98 L322.80,121.40 L323.60,120.82 L324.40,120.21 L325.21,119.58 L326.01,118.94 L326.82,118.28 L327.62,117.59 L328.43,116.89 L329.24,116.16 L330.04,115.41 L330.85,114.64 L331.65,113.84 L332.45,113.02 L333.26,112.17 L334.06,111.29 L334.87,110.39 L335.68,109.45 L336.48,108.49 L337.29,107.49 L338.09,106.47 L338.89,105.41 L339.70,104.31 L340.50,103.18 L341.31,102.01 L342.12,100.81 L342.92,99.57 L343.73,98.28 L344.53,96.96 L345.33,95.59 L346.14,94.19 L346.94,92.73 L347.75,91.23 L348.56,89.69 L349.36,88.09 L350.17,86.45 L350.97,84.76 L351.77,83.03 L352.58,81.24 L353.38,79.40 L354.19,77.51 L355.00,75.57 L355.80,73.58 L356.61,71.55 L357.41,69.46 L358.22,67.33 L359.02,65.15 L359.82,62.93 L360.63,60.67 L361.44,58.38 L362.24,56.05 L363.05,53.69 L363.85,51.31 L364.65,48.90 L365.46,46.49 L366.26,44.07 L367.07,41.65 L367.88,39.24 L368.68,36.84 L369.49,34.48 L370.29,32.15 L371.10,29.87 L371.90,27.65 L372.70,25.51 L373.51,23.44 L374.31,21.47 L375.12,19.60 L375.93,17.86 L376.73,16.25 L377.54,14.78 L378.34,13.47 L379.14,12.35 L379.95,11.42 L380.75,10.72 L381.56,10.27 L382.37,10.10 L383.17,10.25 L383.98,10.75 L384.78,11.64 L385.59,12.93 L386.39,14.64 L387.19,16.77 L388.00,19.32 L388.81,22.26 L389.61,25.57 L390.42,29.20 L391.22,33.12 L392.02,37.26 L392.83,41.59 L393.63,46.06 L394.44,50.61 L395.25,55.22 L396.05,59.84 L396.86,64.44 L397.66,68.99 L398.47,73.46 L399.27,77.83 L400.07,82.09 L400.88,86.22 L401.69,90.21 L402.49,94.04 L403.30,97.73 L404.10,101.25 L404.90,104.61 L405.71,107.80 L406.51,110.83 L407.32,113.70 L408.12,116.42 L408.93,118.98 L409.74,121.39 L410.54,123.65 L411.35,125.77 L412.15,127.76 L412.96,129.62 L413.76,131.36 L414.56,132.99 L415.37,134.50 L416.18,135.91 L416.98,137.23 L417.79,138.45 L418.59,139.59 L419.39,140.65 L420.20,141.64 L421.00,142.56 L421.81,143.41 L422.62,144.21 L423.42,144.95 L424.23,145.64 L425.03,146.29 L425.84,146.90 L426.64,147.46 L427.44,147.99 L428.25,148.49 L429.06,148.96 L429.86,149.40 L430.67,149.82 L431.47,150.21 L432.27,150.58 L433.08,150.93 L433.88,151.26 L434.69,151.58 L435.50,151.88 L436.30,152.17 L437.11,152.44 L437.91,152.70 L438.72,152.95 L439.52,153.19 L440.33,153.42 L441.13,153.64 L441.94,153.85 L442.74,154.05 L443.55,154.24 L444.35,154.43 L445.15,154.61 L445.96,154.78 L446.76,154.95 L447.57,155.11 L448.38,155.27 L449.18,155.42 L449.99,155.56 L450.79,155.70 L451.60,155.84 L452.40,155.97 L453.21,156.09 L454.01,156.22 L454.81,156.33 L455.62,156.45 L456.43,156.56 L457.23,156.67 L458.03,156.77 L458.84,156.87 L459.64,156.97 L460.45,157.07 L461.25,157.16 L462.06,157.25 L462.87,157.34 L463.67,157.42 L464.48,157.50 L465.28,157.58 L466.09,157.66 L466.89,157.74 L467.70,157.81 L468.50,157.88 L469.31,157.95 L470.11,158.02 L470.92,158.09 L471.72,158.15 L472.52,158.21 L473.33,158.27 L474.13,158.33 L474.94,158.39 L475.75,158.45 L476.55,158.50 L477.36,158.56 L478.16,158.61 L478.97,158.66 L479.77,158.71 L480.58,158.76 L481.38,158.80 L482.19,158.85 L482.99,158.90 L483.80,158.94 L484.60,158.98 L485.40,159.03 L486.21,159.07 L487.01,159.11 L487.82,159.15 L488.62,159.19 L489.43,159.22 L490.24,159.26 L491.04,159.30 L491.85,159.33 L492.65,159.37 L493.46,159.40 L494.26,159.43 L495.06,159.46 L495.87,159.50 L496.68,159.53 L497.48,159.56 L498.29,159.59 L499.09,159.62 L499.89,159.65 L500.70,159.67" fill="none" stroke="#111111" stroke-width="1.2" stroke-linejoin="round" />
<path d="M307.50,134.55 L308.31,134.25 L309.11,133.95 L309.92,133.64 L310.72,133.32 L311.52,132.99 L312.33,132.64 L313.13,132.29 L313.94,131.93 L314.75,131.56 L315.55,131.17 L316.36,130.78 L317.16,130.37 L317.96,129.95 L318.77,129.51 L319.57,129.06 L320.38,128.60 L321.19,128.12 L321.99,127.62 L322.80,127.11 L323.60,126.58 L324.40,126.03 L325.21,125.46 L326.01,124.88 L326.82,124.27 L327.62,123.64 L328.43,122.99 L329.24,122.32 L330.04,121.62 L330.85,120.90 L331.65,120.15 L332.45,119.38 L333.26,118.57 L334.06,117.74 L334.87,116.87 L335.68,115.97 L336.48,115.04 L337.29,114.07 L338.09,113.07 L338.89,112.03 L339.70,110.95 L340.50,109.82 L341.31,108.65 L342.12,107.44 L342.92,106.18 L343.73,104.87 L344.53,103.51 L345.33,102.10 L346.14,100.64 L346.94,99.11 L347.75,97.53 L348.56,95.89 L349.36,94.19 L350.17,92.42 L350.97,90.59 L351.77,88.69 L352.58,86.72 L353.38,84.68 L354.19,82.58 L355.00,80.40 L355.80,78.15 L356.61,75.83 L357.41,73.44 L358.22,70.98 L359.02,68.45 L359.82,65.87 L360.63,63.22 L361.44,60.51 L362.24,57.76 L363.05,54.96 L363.85,52.12 L364.65,49.26 L365.46,46.39 L366.26,43.51 L367.07,40.64 L367.88,37.79 L368.68,34.98 L369.49,32.22 L370.29,29.54 L371.10,26.95 L371.90,24.47 L372.70,22.12 L373.51,19.92 L374.31,17.89 L375.12,16.05 L375.93,14.43 L376.73,13.03 L377.54,11.88 L378.34,11.00 L379.14,10.41 L379.95,10.13 L380.75,10.16 L381.56,10.52 L382.37,11.23 L383.17,12.27 L383.98,13.67 L384.78,15.39 L385.59,17.44 L386.39,19.80 L387.19,22.45 L388.00,25.36 L388.81,28.50 L389.61,31.85 L390.42,35.39 L391.22,39.08 L392.02,42.89 L392.83,46.80 L393.63,50.79 L394.44,54.83 L395.25,58.89 L396.05,62.96 L396.86,67.02 L397.66,71.05 L398.47,75.03 L399.27,78.95 L400.07,82.80 L400.88,86.57 L401.69,90.24 L402.49,93.81 L403.30,97.27 L404.10,100.61 L404.90,103.83 L405.71,106.94 L406.51,109.91 L407.32,112.76 L408.12,115.48 L408.93,118.07 L409.74,120.53 L410.54,122.87 L411.35,125.08 L412.15,127.17 L412.96,129.14 L413.76,131.00 L414.56,132.74 L415.37,134.38 L416.18,135.91 L416.98,137.34 L417.79,138.68 L418.59,139.93 L419.39,141.09 L420.20,142.17 L421.00,143.18 L421.81,144.12 L422.62,144.98 L423.42,145.79 L424.23,146.54 L425.03,147.23 L425.84,147.87 L426.64,148.46 L427.44,149.02 L428.25,149.53 L429.06,150.00 L429.86,150.44 L430.67,150.85 L431.47,151.23 L432.27,151.59 L433.08,151.92 L433.88,152.23 L434.69,152.51 L435.50,152.78 L436.30,153.04 L437.11,153.28 L437.91,153.50 L438.72,153.71 L439.52,153.91 L440.33,154.10 L441.13,154.28 L441.94,154.45 L442.74,154.61 L443.55,154.76 L444.35,154.91 L445.15,155.05 L445.96,155.19 L446.76,155.32 L447.57,155.44 L448.38,155.56 L449.18,155.67 L449.99,155.78 L450.79,155.89 L451.60,155.99 L452.40,156.09 L453.21,156.19 L454.01,156.28 L454.81,156.37 L455.62,156.45 L456.43,156.54 L457.23,156.62 L458.03,156.70 L458.84,156.78 L459.64,156.85 L460.45,156.92 L461.25,156.99 L462.06,157.06 L462.87,157.13 L463.67,157.19 L464.48,157.26 L465.28,157.32 L466.09,157.38 L466.89,157.43 L467.70,157.49 L468.50,157.54 L469.31,157.60 L470.11,157.65 L470.92,157.70 L471.72,157.75 L472.52,157.80 L473.33,157.85 L474.13,157.89 L474.94,157.94 L475.75,157.98 L476.55,158.02 L477.36,158.07 L478.16,158.11 L478.97,158.15 L479.77,158.19 L480.58,158.22 L481.38,158.26 L482.19,158.30 L482.99,158.33 L483.80,158.37 L484.60,158.40 L485.40,158.43 L486.21,158.47 L487.01,158.50 L487.82,158.53 L488.62,158.56 L489.43,158.59 L490.24,158.62 L491.04,158.65 L491.85,158.67 L492.65,158.70 L493.46,158.73 L494.26,158.75 L495.06,158.78 L495.87,158.81 L496.68,158.83 L497.48,158.85 L498.29,158.88 L499.09,158.90 L499.89,158.92 L500.70,158.95" fill="none" stroke="#ff1a1a" stroke-width="1.2" stroke-linejoin="round" />
<path d="M307.50,137.86 L308.31,137.65 L309.11,137.42 L309.92,137.19 L310.72,136.95 L311.52,136.71 L312.33,136.46 L313.13,136.20 L313.94,135.93 L314.75,135.65 L315.55,135.37 L316.36,135.07 L317.16,134.77 L317.96,134.45 L318.77,134.13 L319.57,133.79 L320.38,133.45 L321.19,133.09 L321.99,132.72 L322.80,132.34 L323.60,131.94 L324.40,131.53 L325.21,131.11 L326.01,130.67 L326.82,130.22 L327.62,129.74 L328.43,129.26 L329.24,128.75 L330.04,128.22 L330.85,127.68 L331.65,127.11 L332.45,126.53 L333.26,125.92 L334.06,125.28 L334.87,124.62 L335.68,123.94 L336.48,123.22 L337.29,122.48 L338.09,121.71 L338.89,120.91 L339.70,120.07 L340.50,119.20 L341.31,118.29 L342.12,117.35 L342.92,116.36 L343.73,115.33 L344.53,114.26 L345.33,113.14 L346.14,111.97 L346.94,110.75 L347.75,109.48 L348.56,108.15 L349.36,106.76 L350.17,105.31 L350.97,103.80 L351.77,102.22 L352.58,100.57 L353.38,98.85 L354.19,97.05 L355.00,95.18 L355.80,93.22 L356.61,91.18 L357.41,89.06 L358.22,86.85 L359.02,84.55 L359.82,82.16 L360.63,79.67 L361.44,77.10 L362.24,74.44 L363.05,71.68 L363.85,68.84 L364.65,65.92 L365.46,62.92 L366.26,59.85 L367.07,56.72 L367.88,53.54 L368.68,50.31 L369.49,47.06 L370.29,43.80 L371.10,40.55 L371.90,37.33 L372.70,34.16 L373.51,31.07 L374.31,28.08 L375.12,25.21 L375.93,22.51 L376.73,20.00 L377.54,17.70 L378.34,15.65 L379.14,13.87 L379.95,12.40 L380.75,11.27 L381.56,10.51 L382.37,10.13 L383.17,10.18 L383.98,10.65 L384.78,11.57 L385.59,12.94 L386.39,14.75 L387.19,16.99 L388.00,19.64 L388.81,22.66 L389.61,26.01 L390.42,29.67 L391.22,33.58 L392.02,37.69 L392.83,41.97 L393.63,46.37 L394.44,50.85 L395.25,55.38 L396.05,59.92 L396.86,64.44 L397.66,68.92 L398.47,73.32 L399.27,77.64 L400.07,81.85 L400.88,85.95 L401.69,89.91 L402.49,93.73 L403.30,97.41 L404.10,100.94 L404.90,104.31 L405.71,107.52 L406.51,110.58 L407.32,113.48 L408.12,116.23 L408.93,118.82 L409.74,121.27 L410.54,123.57 L411.35,125.74 L412.15,127.77 L412.96,129.67 L413.76,131.44 L414.56,133.10 L415.37,134.65 L416.18,136.09 L416.98,137.43 L417.79,138.68 L418.59,139.84 L419.39,140.92 L420.20,141.92 L421.00,142.85 L421.81,143.72 L422.62,144.52 L423.42,145.27 L424.23,145.96 L425.03,146.61 L425.84,147.21 L426.64,147.78 L427.44,148.30 L428.25,148.79 L429.06,149.26 L429.86,149.69 L430.67,150.09 L431.47,150.47 L432.27,150.83 L433.08,151.17 L433.88,151.49 L434.69,151.80 L435.50,152.09 L436.30,152.36 L437.11,152.62 L437.91,152.87 L438.72,153.11 L439.52,153.33 L440.33,153.55 L441.13,153.75 L441.94,153.95 L442.74,154.14 L443.55,154.33 L444.35,154.50 L445.15,154.67 L445.96,154.83 L446.76,154.99 L447.57,155.14 L448.38,155.29 L449.18,155.43 L449.99,155.57 L450.79,155.70 L451.60,155.82 L452.40,155.95 L453.21,156.07 L454.01,156.18 L454.81,156.29 L455.62,156.40 L456.43,156.50 L457.23,156.61 L458.03,156.70 L458.84,156.80 L459.64,156.89 L460.45,156.98 L461.25,157.07 L462.06,157.15 L462.87,157.24 L463.67,157.32 L464.48,157.39 L465.28,157.47 L466.09,157.54 L466.89,157.61 L467.70,157.68 L468.50,157.75 L469.31,157.82 L470.11,157.88 L470.92,157.94 L471.72,158.00 L472.52,158.06 L473.33,158.12 L474.13,158.18 L474.94,158.23 L475.75,158.29 L476.55,158.34 L477.36,158.39 L478.16,158.44 L478.97,158.49 L479.77,158.53 L480.58,158.58 L481.38,158.63 L482.19,158.67 L482.99,158.71 L483.80,158.75 L484.60,158.80 L485.40,158.84 L486.21,158.87 L487.01,158.91 L487.82,158.95 L488.62,158.99 L489.43,159.02 L490.24,159.06 L491.04,159.09 L491.85,159.13 L492.65,159.16 L493.46,159.19 L494.26,159.22 L495.06,159.25 L495.87,159.28 L496.68,159.31 L497.48,159.34 L498.29,159.37 L499.09,159.40 L499.89,159.42 L500.70,159.45" fill="none" stroke="#1a1aff" stroke-width="1.2" stroke-linejoin="round" />
<path d="M307.50,143.23 L308.31,143.09 L309.11,142.94 L309.92,142.79 L310.72,142.64 L311.52,142.48 L312.33,142.31 L313.13,142.14 L313.94,141.97 L314.75,141.79 L315.55,141.60 L316.36,141.40 L317.16,141.20 L317.96,141.00 L318.77,140.78 L319.57,140.56 L320.38,140.33 L321.19,140.09 L321.99,139.84 L322.80,139.59 L323.60,139.32 L324.40,139.05 L325.21,138.76 L326.01,138.46 L326.82,138.15 L327.62,137.83 L328.43,137.50 L329.24,137.15 L330.04,136.79 L330.85,136.42 L331.65,136.03 L332.45,135.62 L333.26,135.19 L334.06,134.75 L334.87,134.29 L335.68,133.80 L336.48,133.30 L337.29,132.77 L338.09,132.22 L338.89,131.64 L339.70,131.04 L340.50,130.41 L341.31,129.74 L342.12,129.05 L342.92,128.32 L343.73,127.55 L344.53,126.75 L345.33,125.90 L346.14,125.02 L346.94,124.08 L347.75,123.10 L348.56,122.06 L349.36,120.97 L350.17,119.82 L350.97,118.60 L351.77,117.32 L352.58,115.97 L353.38,114.54 L354.19,113.04 L355.00,111.44 L355.80,109.76 L356.61,107.98 L357.41,106.09 L358.22,104.10 L359.02,102.00 L359.82,99.78 L360.63,97.43 L361.44,94.95 L362.24,92.33 L363.05,89.58 L363.85,86.68 L364.65,83.63 L365.46,80.44 L366.26,77.09 L367.07,73.60 L367.88,69.98 L368.68,66.21 L369.49,62.33 L370.29,58.35 L371.10,54.28 L371.90,50.15 L372.70,46.00 L373.51,41.86 L374.31,37.77 L375.12,33.77 L375.93,29.92 L376.73,26.26 L377.54,22.86 L378.34,19.77 L379.14,17.03 L379.95,14.70 L380.75,12.81 L381.56,11.41 L382.37,10.50 L383.17,10.11 L383.98,10.25 L384.78,10.90 L385.59,12.05 L386.39,13.68 L387.19,15.76 L388.00,18.26 L388.81,21.15 L389.61,24.38 L390.42,27.91 L391.22,31.70 L392.02,35.72 L392.83,39.91 L393.63,44.24 L394.44,48.68 L395.25,53.18 L396.05,57.72 L396.86,62.26 L397.66,66.77 L398.47,71.24 L399.27,75.65 L400.07,79.96 L400.88,84.17 L401.69,88.27 L402.49,92.24 L403.30,96.07 L404.10,99.75 L404.90,103.29 L405.71,106.66 L406.51,109.89 L407.32,112.95 L408.12,115.85 L408.93,118.60 L409.74,121.19 L410.54,123.63 L411.35,125.92 L412.15,128.07 L412.96,130.08 L413.76,131.95 L414.56,133.70 L415.37,135.32 L416.18,136.83 L416.98,138.23 L417.79,139.52 L418.59,140.72 L419.39,141.83 L420.20,142.86 L421.00,143.80 L421.81,144.67 L422.62,145.48 L423.42,146.22 L424.23,146.90 L425.03,147.54 L425.84,148.12 L426.64,148.66 L427.44,149.16 L428.25,149.62 L429.06,150.05 L429.86,150.45 L430.67,150.82 L431.47,151.17 L432.27,151.49 L433.08,151.79 L433.88,152.08 L434.69,152.34 L435.50,152.60 L436.30,152.83 L437.11,153.06 L437.91,153.27 L438.72,153.47 L439.52,153.66 L440.33,153.84 L441.13,154.02 L441.94,154.18 L442.74,154.34 L443.55,154.49 L444.35,154.64 L445.15,154.78 L445.96,154.91 L446.76,155.04 L447.57,155.17 L448.38,155.29 L449.18,155.40 L449.99,155.51 L450.79,155.62 L451.60,155.72 L452.40,155.83 L453.21,155.92 L454.01,156.02 L454.81,156.11 L455.62,156.20 L456.43,156.28 L457.23,156.36 L458.03,156.45 L458.84,156.52 L459.64,156.60 L460.45,156.67 L461.25,156.74 L462.06,156.81 L462.87,156.88 L463.67,156.95 L464.48,157.01 L465.28,157.07 L466.09,157.13 L466.89,157.19 L467.70,157.25 L468.50,157.30 L469.31,157.36 L470.11,157.41 L470.92,157.46 L471.72,157.51 L472.52,157.56 L473.33,157.60 L474.13,157.65 L474.94,157.70 L475.75,157.74 L476.55,157.78 L477.36,157.82 L478.16,157.86 L478.97,157.90 L479.77,157.94 L480.58,157.98 L481.38,158.02 L482.19,158.05 L482.99,158.09 L483.80,158.12 L484.60,158.16 L485.40,158.19 L486.21,158.22 L487.01,158.25 L487.82,158.28 L488.62,158.31 L489.43,158.34 L490.24,158.37 L491.04,158.40 L491.85,158.43 L492.65,158.45 L493.46,158.48 L494.26,158.50 L495.06,158.53 L495.87,158.55 L496.68,158.58 L497.48,158.60 L498.29,158.63 L499.09,158.65 L499.89,158.67 L500.70,158.69" fill="none" stroke="#ff20ff" stroke-width="1.2" stroke-linejoin="round" />
<circle cx="308.02" cy="128.81" r="2.1" fill="#111111"/>
<circle cx="307.42" cy="128.21" r="0.8" fill="#fff" fill-opacity="0.45"/>
<circle cx="314.00" cy="126.18" r="2.1" fill="#111111"/>
<circle cx="313.40" cy="125.58" r="0.8" fill="#fff" fill-opacity="0.45"/>
<circle cx="319.99" cy="123.63" r="2.1" fill="#111111"/>
<circle cx="319.39" cy="123.03" r="0.8" fill="#fff" fill-opacity="0.45"/>
<circle cx="325.98" cy="118.99" r="2.1" fill="#111111"/>
<circle cx="325.38" cy="118.39" r="0.8" fill="#fff" fill-opacity="0.45"/>
<circle cx="331.97" cy="113.73" r="2.1" fill="#111111"/>
<circle cx="331.37" cy="113.13" r="0.8" fill="#fff" fill-opacity="0.45"/>
<circle cx="337.96" cy="106.06" r="2.1" fill="#111111"/>
<circle cx="337.36" cy="105.46" r="0.8" fill="#fff" fill-opacity="0.45"/>
<circle cx="343.95" cy="98.28" r="2.1" fill="#111111"/>
<circle cx="343.35" cy="97.68" r="0.8" fill="#fff" fill-opacity="0.45"/>
<circle cx="349.94" cy="87.37" r="2.1" fill="#111111"/>
<circle cx="349.34" cy="86.77" r="0.8" fill="#fff" fill-opacity="0.45"/>
<circle cx="355.93" cy="73.97" r="2.1" fill="#111111"/>
<circle cx="355.33" cy="73.37" r="0.8" fill="#fff" fill-opacity="0.45"/>
<circle cx="361.92" cy="56.88" r="2.1" fill="#111111"/>
<circle cx="361.32" cy="56.28" r="0.8" fill="#fff" fill-opacity="0.45"/>
<circle cx="367.91" cy="38.93" r="2.1" fill="#111111"/>
<circle cx="367.31" cy="38.33" r="0.8" fill="#fff" fill-opacity="0.45"/>
<circle cx="373.90" cy="22.73" r="2.1" fill="#111111"/>
<circle cx="373.30" cy="22.13" r="0.8" fill="#fff" fill-opacity="0.45"/>
<circle cx="379.89" cy="11.81" r="2.1" fill="#111111"/>
<circle cx="379.29" cy="11.21" r="0.8" fill="#fff" fill-opacity="0.45"/>
<circle cx="385.87" cy="13.56" r="2.1" fill="#111111"/>
<circle cx="385.27" cy="12.96" r="0.8" fill="#fff" fill-opacity="0.45"/>
<circle cx="391.86" cy="35.79" r="2.1" fill="#111111"/>
<circle cx="391.26" cy="35.19" r="0.8" fill="#fff" fill-opacity="0.45"/>
<circle cx="397.85" cy="70.66" r="2.1" fill="#111111"/>
<circle cx="397.25" cy="70.06" r="0.8" fill="#fff" fill-opacity="0.45"/>
<circle cx="403.84" cy="100.14" r="2.1" fill="#111111"/>
<circle cx="403.24" cy="99.54" r="0.8" fill="#fff" fill-opacity="0.45"/>
<circle cx="409.83" cy="121.55" r="2.1" fill="#111111"/>
<circle cx="409.23" cy="120.95" r="0.8" fill="#fff" fill-opacity="0.45"/>
<circle cx="415.82" cy="135.12" r="2.1" fill="#111111"/>
<circle cx="415.22" cy="134.52" r="0.8" fill="#fff" fill-opacity="0.45"/>
<circle cx="421.81" cy="142.82" r="2.1" fill="#111111"/>
<circle cx="421.21" cy="142.22" r="0.8" fill="#fff" fill-opacity="0.45"/>
<circle cx="427.80" cy="147.82" r="2.1" fill="#111111"/>
<circle cx="427.20" cy="147.22" r="0.8" fill="#fff" fill-opacity="0.45"/>
<circle cx="433.79" cy="151.08" r="2.1" fill="#111111"/>
<circle cx="433.19" cy="150.48" r="0.8" fill="#fff" fill-opacity="0.45"/>
<circle cx="439.78" cy="152.58" r="2.1" fill="#111111"/>
<circle cx="439.18" cy="151.98" r="0.8" fill="#fff" fill-opacity="0.45"/>
<circle cx="445.77" cy="154.21" r="2.1" fill="#111111"/>
<circle cx="445.17" cy="153.61" r="0.8" fill="#fff" fill-opacity="0.45"/>
<circle cx="451.76" cy="155.71" r="2.1" fill="#111111"/>
<circle cx="451.16" cy="155.11" r="0.8" fill="#fff" fill-opacity="0.45"/>
<circle cx="457.75" cy="156.61" r="2.1" fill="#111111"/>
<circle cx="457.15" cy="156.01" r="0.8" fill="#fff" fill-opacity="0.45"/>
<circle cx="463.73" cy="157.94" r="2.1" fill="#111111"/>
<circle cx="463.13" cy="157.34" r="0.8" fill="#fff" fill-opacity="0.45"/>
<circle cx="469.72" cy="157.91" r="2.1" fill="#111111"/>
<circle cx="469.12" cy="157.31" r="0.8" fill="#fff" fill-opacity="0.45"/>
<circle cx="475.71" cy="158.78" r="2.1" fill="#111111"/>
<circle cx="475.11" cy="158.18" r="0.8" fill="#fff" fill-opacity="0.45"/>
<circle cx="481.70" cy="159.31" r="2.1" fill="#111111"/>
<circle cx="481.10" cy="158.71" r="0.8" fill="#fff" fill-opacity="0.45"/>
<circle cx="487.69" cy="159.24" r="2.1" fill="#111111"/>
<circle cx="487.09" cy="158.64" r="0.8" fill="#fff" fill-opacity="0.45"/>
<circle cx="493.68" cy="160.17" r="2.1" fill="#111111"/>
<circle cx="493.08" cy="159.57" r="0.8" fill="#fff" fill-opacity="0.45"/>
<circle cx="499.67" cy="160.02" r="2.1" fill="#111111"/>
<circle cx="499.07" cy="159.42" r="0.8" fill="#fff" fill-opacity="0.45"/>
<circle cx="308.02" cy="134.57" r="2.1" fill="#ff1a1a"/>
<circle cx="307.42" cy="133.97" r="0.8" fill="#fff" fill-opacity="0.45"/>
<circle cx="314.00" cy="131.73" r="2.1" fill="#ff1a1a"/>
<circle cx="313.40" cy="131.13" r="0.8" fill="#fff" fill-opacity="0.45"/>
<circle cx="319.99" cy="128.95" r="2.1" fill="#ff1a1a"/>
<circle cx="319.39" cy="128.35" r="0.8" fill="#fff" fill-opacity="0.45"/>
<circle cx="325.98" cy="124.71" r="2.1" fill="#ff1a1a"/>
<circle cx="325.38" cy="124.11" r="0.8" fill="#fff" fill-opacity="0.45"/>
<circle cx="331.97" cy="119.12" r="2.1" fill="#ff1a1a"/>
<circle cx="331.37" cy="118.52" r="0.8" fill="#fff" fill-opacity="0.45"/>
<circle cx="337.96" cy="112.85" r="2.1" fill="#ff1a1a"/>
<circle cx="337.36" cy="112.25" r="0.8" fill="#fff" fill-opacity="0.45"/>
<circle cx="343.95" cy="105.00" r="2.1" fill="#ff1a1a"/>
<circle cx="343.35" cy="104.40" r="0.8" fill="#fff" fill-opacity="0.45"/>
<circle cx="349.94" cy="93.71" r="2.1" fill="#ff1a1a"/>
<circle cx="349.34" cy="93.11" r="0.8" fill="#fff" fill-opacity="0.45"/>
<circle cx="355.93" cy="78.18" r="2.1" fill="#ff1a1a"/>
<circle cx="355.33" cy="77.58" r="0.8" fill="#fff" fill-opacity="0.45"/>
<circle cx="361.92" cy="59.26" r="2.1" fill="#ff1a1a"/>
<circle cx="361.32" cy="58.66" r="0.8" fill="#fff" fill-opacity="0.45"/>
<circle cx="367.91" cy="38.56" r="2.1" fill="#ff1a1a"/>
<circle cx="367.31" cy="37.96" r="0.8" fill="#fff" fill-opacity="0.45"/>
<circle cx="373.90" cy="19.69" r="2.1" fill="#ff1a1a"/>
<circle cx="373.30" cy="19.09" r="0.8" fill="#fff" fill-opacity="0.45"/>
<circle cx="379.89" cy="10.91" r="2.1" fill="#ff1a1a"/>
<circle cx="379.29" cy="10.31" r="0.8" fill="#fff" fill-opacity="0.45"/>
<circle cx="385.87" cy="18.53" r="2.1" fill="#ff1a1a"/>
<circle cx="385.27" cy="17.93" r="0.8" fill="#fff" fill-opacity="0.45"/>
<circle cx="391.86" cy="41.48" r="2.1" fill="#ff1a1a"/>
<circle cx="391.26" cy="40.88" r="0.8" fill="#fff" fill-opacity="0.45"/>
<circle cx="397.85" cy="71.24" r="2.1" fill="#ff1a1a"/>
<circle cx="397.25" cy="70.64" r="0.8" fill="#fff" fill-opacity="0.45"/>
<circle cx="403.84" cy="100.02" r="2.1" fill="#ff1a1a"/>
<circle cx="403.24" cy="99.42" r="0.8" fill="#fff" fill-opacity="0.45"/>
<circle cx="409.83" cy="121.03" r="2.1" fill="#ff1a1a"/>
<circle cx="409.23" cy="120.43" r="0.8" fill="#fff" fill-opacity="0.45"/>
<circle cx="415.82" cy="135.88" r="2.1" fill="#ff1a1a"/>
<circle cx="415.22" cy="135.28" r="0.8" fill="#fff" fill-opacity="0.45"/>
<circle cx="421.81" cy="144.87" r="2.1" fill="#ff1a1a"/>
<circle cx="421.21" cy="144.27" r="0.8" fill="#fff" fill-opacity="0.45"/>
<circle cx="427.80" cy="149.30" r="2.1" fill="#ff1a1a"/>
<circle cx="427.20" cy="148.70" r="0.8" fill="#fff" fill-opacity="0.45"/>
<circle cx="433.79" cy="152.19" r="2.1" fill="#ff1a1a"/>
<circle cx="433.19" cy="151.59" r="0.8" fill="#fff" fill-opacity="0.45"/>
<circle cx="439.78" cy="154.28" r="2.1" fill="#ff1a1a"/>
<circle cx="439.18" cy="153.68" r="0.8" fill="#fff" fill-opacity="0.45"/>
<circle cx="445.77" cy="154.90" r="2.1" fill="#ff1a1a"/>
<circle cx="445.17" cy="154.30" r="0.8" fill="#fff" fill-opacity="0.45"/>
<circle cx="451.76" cy="156.19" r="2.1" fill="#ff1a1a"/>
<circle cx="451.16" cy="155.59" r="0.8" fill="#fff" fill-opacity="0.45"/>
<circle cx="457.75" cy="156.21" r="2.1" fill="#ff1a1a"/>
<circle cx="457.15" cy="155.61" r="0.8" fill="#fff" fill-opacity="0.45"/>
<circle cx="463.73" cy="157.46" r="2.1" fill="#ff1a1a"/>
<circle cx="463.13" cy="156.86" r="0.8" fill="#fff" fill-opacity="0.45"/>
<circle cx="469.72" cy="157.28" r="2.1" fill="#ff1a1a"/>
<circle cx="469.12" cy="156.68" r="0.8" fill="#fff" fill-opacity="0.45"/>
<circle cx="475.71" cy="158.11" r="2.1" fill="#ff1a1a"/>
<circle cx="475.11" cy="157.51" r="0.8" fill="#fff" fill-opacity="0.45"/>
<circle cx="481.70" cy="158.26" r="2.1" fill="#ff1a1a"/>
<circle cx="481.10" cy="157.66" r="0.8" fill="#fff" fill-opacity="0.45"/>
<circle cx="487.69" cy="158.28" r="2.1" fill="#ff1a1a"/>
<circle cx="487.09" cy="157.68" r="0.8" fill="#fff" fill-opacity="0.45"/>
<circle cx="493.68" cy="159.38" r="2.1" fill="#ff1a1a"/>
<circle cx="493.08" cy="158.78" r="0.8" fill="#fff" fill-opacity="0.45"/>
<circle cx="499.67" cy="159.29" r="2.1" fill="#ff1a1a"/>
<circle cx="499.07" cy="158.69" r="0.8" fill="#fff" fill-opacity="0.45"/>
<circle cx="308.02" cy="137.80" r="2.1" fill="#1a1aff"/>
<circle cx="307.42" cy="137.20" r="0.8" fill="#fff" fill-opacity="0.45"/>
<circle cx="314.00" cy="136.07" r="2.1" fill="#1a1aff"/>
<circle cx="313.40" cy="135.47" r="0.8" fill="#fff" fill-opacity="0.45"/>
<circle cx="319.99" cy="133.54" r="2.1" fill="#1a1aff"/>
<circle cx="319.39" cy="132.94" r="0.8" fill="#fff" fill-opacity="0.45"/>
<circle cx="325.98" cy="131.09" r="2.1" fill="#1a1aff"/>
<circle cx="325.38" cy="130.49" r="0.8" fill="#fff" fill-opacity="0.45"/>
<circle cx="331.97" cy="127.52" r="2.1" fill="#1a1aff"/>
<circle cx="331.37" cy="126.92" r="0.8" fill="#fff" fill-opacity="0.45"/>
<circle cx="337.96" cy="121.93" r="2.1" fill="#1a1aff"/>
<circle cx="337.36" cy="121.33" r="0.8" fill="#fff" fill-opacity="0.45"/>
<circle cx="343.95" cy="114.95" r="2.1" fill="#1a1aff"/>
<circle cx="343.35" cy="114.35" r="0.8" fill="#fff" fill-opacity="0.45"/>
<circle cx="349.94" cy="106.13" r="2.1" fill="#1a1aff"/>
<circle cx="349.34" cy="105.53" r="0.8" fill="#fff" fill-opacity="0.45"/>
<circle cx="355.93" cy="92.40" r="2.1" fill="#1a1aff"/>
<circle cx="355.33" cy="91.80" r="0.8" fill="#fff" fill-opacity="0.45"/>
<circle cx="361.92" cy="75.24" r="2.1" fill="#1a1aff"/>
<circle cx="361.32" cy="74.64" r="0.8" fill="#fff" fill-opacity="0.45"/>
<circle cx="367.91" cy="53.07" r="2.1" fill="#1a1aff"/>
<circle cx="367.31" cy="52.47" r="0.8" fill="#fff" fill-opacity="0.45"/>
<circle cx="373.90" cy="29.30" r="2.1" fill="#1a1aff"/>
<circle cx="373.30" cy="28.70" r="0.8" fill="#fff" fill-opacity="0.45"/>
<circle cx="379.89" cy="12.93" r="2.1" fill="#1a1aff"/>
<circle cx="379.29" cy="12.33" r="0.8" fill="#fff" fill-opacity="0.45"/>
<circle cx="385.87" cy="12.62" r="2.1" fill="#1a1aff"/>
<circle cx="385.27" cy="12.02" r="0.8" fill="#fff" fill-opacity="0.45"/>
<circle cx="391.86" cy="37.20" r="2.1" fill="#1a1aff"/>
<circle cx="391.26" cy="36.60" r="0.8" fill="#fff" fill-opacity="0.45"/>
<circle cx="397.85" cy="69.84" r="2.1" fill="#1a1aff"/>
<circle cx="397.25" cy="69.24" r="0.8" fill="#fff" fill-opacity="0.45"/>
<circle cx="403.84" cy="99.52" r="2.1" fill="#1a1aff"/>
<circle cx="403.24" cy="98.92" r="0.8" fill="#fff" fill-opacity="0.45"/>
<circle cx="409.83" cy="121.42" r="2.1" fill="#1a1aff"/>
<circle cx="409.23" cy="120.82" r="0.8" fill="#fff" fill-opacity="0.45"/>
<circle cx="415.82" cy="135.40" r="2.1" fill="#1a1aff"/>
<circle cx="415.22" cy="134.80" r="0.8" fill="#fff" fill-opacity="0.45"/>
<circle cx="421.81" cy="144.09" r="2.1" fill="#1a1aff"/>
<circle cx="421.21" cy="143.49" r="0.8" fill="#fff" fill-opacity="0.45"/>
<circle cx="427.80" cy="148.71" r="2.1" fill="#1a1aff"/>
<circle cx="427.20" cy="148.11" r="0.8" fill="#fff" fill-opacity="0.45"/>
<circle cx="433.79" cy="151.45" r="2.1" fill="#1a1aff"/>
<circle cx="433.19" cy="150.85" r="0.8" fill="#fff" fill-opacity="0.45"/>
<circle cx="439.78" cy="152.82" r="2.1" fill="#1a1aff"/>
<circle cx="439.18" cy="152.22" r="0.8" fill="#fff" fill-opacity="0.45"/>
<circle cx="445.77" cy="155.09" r="2.1" fill="#1a1aff"/>
<circle cx="445.17" cy="154.49" r="0.8" fill="#fff" fill-opacity="0.45"/>
<circle cx="451.76" cy="155.54" r="2.1" fill="#1a1aff"/>
<circle cx="451.16" cy="154.94" r="0.8" fill="#fff" fill-opacity="0.45"/>
<circle cx="457.75" cy="156.47" r="2.1" fill="#1a1aff"/>
<circle cx="457.15" cy="155.87" r="0.8" fill="#fff" fill-opacity="0.45"/>
<circle cx="463.73" cy="157.27" r="2.1" fill="#1a1aff"/>
<circle cx="463.13" cy="156.67" r="0.8" fill="#fff" fill-opacity="0.45"/>
<circle cx="469.72" cy="158.09" r="2.1" fill="#1a1aff"/>
<circle cx="469.12" cy="157.49" r="0.8" fill="#fff" fill-opacity="0.45"/>
<circle cx="475.71" cy="158.33" r="2.1" fill="#1a1aff"/>
<circle cx="475.11" cy="157.73" r="0.8" fill="#fff" fill-opacity="0.45"/>
<circle cx="481.70" cy="159.40" r="2.1" fill="#1a1aff"/>
<circle cx="481.10" cy="158.80" r="0.8" fill="#fff" fill-opacity="0.45"/>
<circle cx="487.69" cy="158.87" r="2.1" fill="#1a1aff"/>
<circle cx="487.09" cy="158.27" r="0.8" fill="#fff" fill-opacity="0.45"/>
<circle cx="493.68" cy="159.03" r="2.1" fill="#1a1aff"/>
<circle cx="493.08" cy="158.43" r="0.8" fill="#fff" fill-opacity="0.45"/>
<circle cx="499.67" cy="159.62" r="2.1" fill="#1a1aff"/>
<circle cx="499.07" cy="159.02" r="0.8" fill="#fff" fill-opacity="0.45"/>
<circle cx="308.02" cy="142.87" r="2.1" fill="#ff20ff"/>
<circle cx="307.42" cy="142.27" r="0.8" fill="#fff" fill-opacity="0.45"/>
<circle cx="314.00" cy="141.78" r="2.1" fill="#ff20ff"/>
<circle cx="313.40" cy="141.18" r="0.8" fill="#fff" fill-opacity="0.45"/>
<circle cx="319.99" cy="140.73" r="2.1" fill="#ff20ff"/>
<circle cx="319.39" cy="140.13" r="0.8" fill="#fff" fill-opacity="0.45"/>
<circle cx="325.98" cy="138.06" r="2.1" fill="#ff20ff"/>
<circle cx="325.38" cy="137.46" r="0.8" fill="#fff" fill-opacity="0.45"/>
<circle cx="331.97" cy="136.07" r="2.1" fill="#ff20ff"/>
<circle cx="331.37" cy="135.47" r="0.8" fill="#fff" fill-opacity="0.45"/>
<circle cx="337.96" cy="131.19" r="2.1" fill="#ff20ff"/>
<circle cx="337.36" cy="130.59" r="0.8" fill="#fff" fill-opacity="0.45"/>
<circle cx="343.95" cy="127.76" r="2.1" fill="#ff20ff"/>
<circle cx="343.35" cy="127.16" r="0.8" fill="#fff" fill-opacity="0.45"/>
<circle cx="349.94" cy="120.47" r="2.1" fill="#ff20ff"/>
<circle cx="349.34" cy="119.87" r="0.8" fill="#fff" fill-opacity="0.45"/>
<circle cx="355.93" cy="109.72" r="2.1" fill="#ff20ff"/>
<circle cx="355.33" cy="109.12" r="0.8" fill="#fff" fill-opacity="0.45"/>
<circle cx="361.92" cy="93.25" r="2.1" fill="#ff20ff"/>
<circle cx="361.32" cy="92.65" r="0.8" fill="#fff" fill-opacity="0.45"/>
<circle cx="367.91" cy="69.26" r="2.1" fill="#ff20ff"/>
<circle cx="367.31" cy="68.66" r="0.8" fill="#fff" fill-opacity="0.45"/>
<circle cx="373.90" cy="39.80" r="2.1" fill="#ff20ff"/>
<circle cx="373.30" cy="39.20" r="0.8" fill="#fff" fill-opacity="0.45"/>
<circle cx="379.89" cy="15.01" r="2.1" fill="#ff20ff"/>
<circle cx="379.29" cy="14.41" r="0.8" fill="#fff" fill-opacity="0.45"/>
<circle cx="385.87" cy="11.69" r="2.1" fill="#ff20ff"/>
<circle cx="385.27" cy="11.09" r="0.8" fill="#fff" fill-opacity="0.45"/>
<circle cx="391.86" cy="34.40" r="2.1" fill="#ff20ff"/>
<circle cx="391.26" cy="33.80" r="0.8" fill="#fff" fill-opacity="0.45"/>
<circle cx="397.85" cy="67.94" r="2.1" fill="#ff20ff"/>
<circle cx="397.25" cy="67.34" r="0.8" fill="#fff" fill-opacity="0.45"/>
<circle cx="403.84" cy="98.60" r="2.1" fill="#ff20ff"/>
<circle cx="403.24" cy="98.00" r="0.8" fill="#fff" fill-opacity="0.45"/>
<circle cx="409.83" cy="122.14" r="2.1" fill="#ff20ff"/>
<circle cx="409.23" cy="121.54" r="0.8" fill="#fff" fill-opacity="0.45"/>
<circle cx="415.82" cy="136.13" r="2.1" fill="#ff20ff"/>
<circle cx="415.22" cy="135.53" r="0.8" fill="#fff" fill-opacity="0.45"/>
<circle cx="421.81" cy="143.86" r="2.1" fill="#ff20ff"/>
<circle cx="421.21" cy="143.26" r="0.8" fill="#fff" fill-opacity="0.45"/>
<circle cx="427.80" cy="149.86" r="2.1" fill="#ff20ff"/>
<circle cx="427.20" cy="149.26" r="0.8" fill="#fff" fill-opacity="0.45"/>
<circle cx="433.79" cy="152.65" r="2.1" fill="#ff20ff"/>
<circle cx="433.19" cy="152.05" r="0.8" fill="#fff" fill-opacity="0.45"/>
<circle cx="439.78" cy="153.63" r="2.1" fill="#ff20ff"/>
<circle cx="439.18" cy="153.03" r="0.8" fill="#fff" fill-opacity="0.45"/>
<circle cx="445.77" cy="155.92" r="2.1" fill="#ff20ff"/>
<circle cx="445.17" cy="155.32" r="0.8" fill="#fff" fill-opacity="0.45"/>
<circle cx="451.76" cy="155.09" r="2.1" fill="#ff20ff"/>
<circle cx="451.16" cy="154.49" r="0.8" fill="#fff" fill-opacity="0.45"/>
<circle cx="457.75" cy="157.07" r="2.1" fill="#ff20ff"/>
<circle cx="457.15" cy="156.47" r="0.8" fill="#fff" fill-opacity="0.45"/>
<circle cx="463.73" cy="157.25" r="2.1" fill="#ff20ff"/>
<circle cx="463.13" cy="156.65" r="0.8" fill="#fff" fill-opacity="0.45"/>
<circle cx="469.72" cy="157.43" r="2.1" fill="#ff20ff"/>
<circle cx="469.12" cy="156.83" r="0.8" fill="#fff" fill-opacity="0.45"/>
<circle cx="475.71" cy="157.17" r="2.1" fill="#ff20ff"/>
<circle cx="475.11" cy="156.57" r="0.8" fill="#fff" fill-opacity="0.45"/>
<circle cx="481.70" cy="157.83" r="2.1" fill="#ff20ff"/>
<circle cx="481.10" cy="157.23" r="0.8" fill="#fff" fill-opacity="0.45"/>
<circle cx="487.69" cy="159.11" r="2.1" fill="#ff20ff"/>
<circle cx="487.09" cy="158.51" r="0.8" fill="#fff" fill-opacity="0.45"/>
<circle cx="493.68" cy="159.23" r="2.1" fill="#ff20ff"/>
<circle cx="493.08" cy="158.63" r="0.8" fill="#fff" fill-opacity="0.45"/>
<circle cx="499.67" cy="158.56" r="2.1" fill="#ff20ff"/>
<circle cx="499.07" cy="157.96" r="0.8" fill="#fff" fill-opacity="0.45"/>
<rect x="301.0" y="3.6" width="207.00" height="163.80" fill="none" stroke="#555" stroke-width="1.5"/>
<line x1="307.50" y1="167.40" x2="307.50" y2="163.40" stroke="#333" stroke-width="1.1" />
<line x1="323.60" y1="167.40" x2="323.60" y2="165.40" stroke="#333" stroke-width="1.1" />
<line x1="339.70" y1="167.40" x2="339.70" y2="163.40" stroke="#333" stroke-width="1.1" />
<line x1="355.80" y1="167.40" x2="355.80" y2="165.40" stroke="#333" stroke-width="1.1" />
<line x1="371.90" y1="167.40" x2="371.90" y2="163.40" stroke="#333" stroke-width="1.1" />
<line x1="388.00" y1="167.40" x2="388.00" y2="165.40" stroke="#333" stroke-width="1.1" />
<line x1="404.10" y1="167.40" x2="404.10" y2="163.40" stroke="#333" stroke-width="1.1" />
<line x1="420.20" y1="167.40" x2="420.20" y2="165.40" stroke="#333" stroke-width="1.1" />
<line x1="436.30" y1="167.40" x2="436.30" y2="163.40" stroke="#333" stroke-width="1.1" />
<line x1="452.40" y1="167.40" x2="452.40" y2="165.40" stroke="#333" stroke-width="1.1" />
<line x1="468.50" y1="167.40" x2="468.50" y2="163.40" stroke="#333" stroke-width="1.1" />
<line x1="484.60" y1="167.40" x2="484.60" y2="165.40" stroke="#333" stroke-width="1.1" />
<line x1="500.70" y1="167.40" x2="500.70" y2="163.40" stroke="#333" stroke-width="1.1" />
<text transform="translate(307.50,180.40) scale(1,1.15)" font-size="10.5" text-anchor="middle" fill="#000" font-family="Liberation Serif" font-weight="bold" >140</text>
<text transform="translate(339.70,180.40) scale(1,1.15)" font-size="10.5" text-anchor="middle" fill="#000" font-family="Liberation Serif" font-weight="bold" >150</text>
<text transform="translate(371.90,180.40) scale(1,1.15)" font-size="10.5" text-anchor="middle" fill="#000" font-family="Liberation Serif" font-weight="bold" >160</text>
<text transform="translate(404.10,180.40) scale(1,1.15)" font-size="10.5" text-anchor="middle" fill="#000" font-family="Liberation Serif" font-weight="bold" >170</text>
<text transform="translate(436.30,180.40) scale(1,1.15)" font-size="10.5" text-anchor="middle" fill="#000" font-family="Liberation Serif" font-weight="bold" >180</text>
<text transform="translate(468.50,180.40) scale(1,1.15)" font-size="10.5" text-anchor="middle" fill="#000" font-family="Liberation Serif" font-weight="bold" >190</text>
<text transform="translate(500.70,180.40) scale(1,1.15)" font-size="10.5" text-anchor="middle" fill="#000" font-family="Liberation Serif" font-weight="bold" >200</text>
<line x1="301.00" y1="160.10" x2="305.00" y2="160.10" stroke="#333" stroke-width="1.1" />
<line x1="301.00" y1="145.10" x2="303.00" y2="145.10" stroke="#333" stroke-width="1.1" />
<line x1="301.00" y1="130.10" x2="305.00" y2="130.10" stroke="#333" stroke-width="1.1" />
<line x1="301.00" y1="115.10" x2="303.00" y2="115.10" stroke="#333" stroke-width="1.1" />
<line x1="301.00" y1="100.10" x2="305.00" y2="100.10" stroke="#333" stroke-width="1.1" />
<line x1="301.00" y1="85.10" x2="303.00" y2="85.10" stroke="#333" stroke-width="1.1" />
<line x1="301.00" y1="70.10" x2="305.00" y2="70.10" stroke="#333" stroke-width="1.1" />
<line x1="301.00" y1="55.10" x2="303.00" y2="55.10" stroke="#333" stroke-width="1.1" />
<line x1="301.00" y1="40.10" x2="305.00" y2="40.10" stroke="#333" stroke-width="1.1" />
<line x1="301.00" y1="25.10" x2="303.00" y2="25.10" stroke="#333" stroke-width="1.1" />
<line x1="301.00" y1="10.10" x2="305.00" y2="10.10" stroke="#333" stroke-width="1.1" />
<text transform="translate(297.50,163.90) scale(1,1.08)" font-size="11.2" text-anchor="end" fill="#000" font-family="Liberation Serif" font-weight="bold" >0.0</text>
<text transform="translate(297.50,133.90) scale(1,1.08)" font-size="11.2" text-anchor="end" fill="#000" font-family="Liberation Serif" font-weight="bold" >0.2</text>
<text transform="translate(297.50,103.90) scale(1,1.08)" font-size="11.2" text-anchor="end" fill="#000" font-family="Liberation Serif" font-weight="bold" >0.4</text>
<text transform="translate(297.50,73.90) scale(1,1.08)" font-size="11.2" text-anchor="end" fill="#000" font-family="Liberation Serif" font-weight="bold" >0.6</text>
<text transform="translate(297.50,43.90) scale(1,1.08)" font-size="11.2" text-anchor="end" fill="#000" font-family="Liberation Serif" font-weight="bold" >0.8</text>
<text transform="translate(297.50,13.90) scale(1,1.08)" font-size="11.2" text-anchor="end" fill="#000" font-family="Liberation Serif" font-weight="bold" >1.0</text>
<text transform="translate(404.50,194.80) scale(1,1.13)" font-size="11" text-anchor="middle" fill="#000" font-family="Liberation Serif" font-weight="bold" >Raman shift (cm<tspan dy="-4" font-size="7">-1</tspan><tspan dy="4">)</tspan></text>
<text transform="translate(277,85.5) rotate(-90)" font-size="11" text-anchor="middle" font-family="Liberation Serif" font-weight="bold">Normalized Intensity (a.u.)</text>
<circle cx="443.5" cy="15.80" r="2" fill="#111111"/>
<text transform="translate(455.80,19.20) scale(1,1.13)" font-size="10.1" text-anchor="start" fill="#000" font-family="Liberation Serif" font-weight="bold" >Monolayer</text>
<circle cx="443.5" cy="28.75" r="2" fill="#ff1a1a"/>
<text transform="translate(455.80,32.15) scale(1,1.13)" font-size="10.1" text-anchor="start" fill="#000" font-family="Liberation Serif" font-weight="bold" >Bilayer</text>
<circle cx="443.5" cy="41.70" r="2" fill="#1a1aff"/>
<text transform="translate(455.80,45.10) scale(1,1.13)" font-size="10.1" text-anchor="start" fill="#000" font-family="Liberation Serif" font-weight="bold" >Trilayer</text>
<circle cx="443.5" cy="54.65" r="2" fill="#ff20ff"/>
<text transform="translate(455.80,58.05) scale(1,1.13)" font-size="10.1" text-anchor="start" fill="#000" font-family="Liberation Serif" font-weight="bold" >Bulk</text>
<line x1="450.05" y1="98.70" x2="428.70" y2="108.20" stroke="#808080" stroke-width="0.7" />
<line x1="450.05" y1="98.70" x2="457.50" y2="108.70" stroke="#808080" stroke-width="0.7" />
<line x1="428.70" y1="108.20" x2="457.50" y2="108.70" stroke="#808080" stroke-width="0.7" />
<line x1="457.50" y1="108.70" x2="480.90" y2="99.40" stroke="#808080" stroke-width="0.7" />
<line x1="480.90" y1="99.40" x2="486.30" y2="110.50" stroke="#808080" stroke-width="0.7" />
<line x1="457.50" y1="108.70" x2="486.30" y2="110.50" stroke="#808080" stroke-width="0.7" />
<line x1="428.70" y1="108.20" x2="436.50" y2="123.60" stroke="#808080" stroke-width="0.7" />
<line x1="436.50" y1="123.60" x2="442.20" y2="133.90" stroke="#808080" stroke-width="0.7" />
<line x1="436.50" y1="123.60" x2="464.50" y2="125.30" stroke="#808080" stroke-width="0.7" />
<line x1="464.50" y1="125.30" x2="442.20" y2="133.90" stroke="#808080" stroke-width="0.7" />
<line x1="464.50" y1="125.30" x2="494.20" y2="125.70" stroke="#808080" stroke-width="0.7" />
<line x1="494.20" y1="125.70" x2="472.10" y2="135.70" stroke="#808080" stroke-width="0.7" />
<line x1="464.50" y1="125.30" x2="472.10" y2="135.70" stroke="#808080" stroke-width="0.7" />
<line x1="486.30" y1="110.50" x2="494.20" y2="125.70" stroke="#808080" stroke-width="0.7" />
<line x1="457.50" y1="108.70" x2="442.20" y2="133.90" stroke="#808080" stroke-width="0.7" />
<line x1="480.90" y1="99.40" x2="464.50" y2="125.30" stroke="#808080" stroke-width="0.7" />
<line x1="450.05" y1="98.70" x2="436.50" y2="123.60" stroke="#808080" stroke-width="0.7" />
<line x1="486.30" y1="110.50" x2="472.10" y2="135.70" stroke="#808080" stroke-width="0.7" />
<line x1="450.05" y1="98.70" x2="453.99" y2="95.56" stroke="#000" stroke-width="1.6" />
<path d="M457.20,93.00 L455.29,97.98 L451.92,93.76 Z" fill="#000"/>
<line x1="428.70" y1="108.20" x2="424.58" y2="104.31" stroke="#000" stroke-width="1.6" />
<path d="M421.60,101.50 L426.80,102.69 L423.09,106.62 Z" fill="#000"/>
<line x1="480.90" y1="99.40" x2="477.87" y2="96.52" stroke="#000" stroke-width="1.6" />
<path d="M474.90,93.70 L480.09,94.91 L476.38,98.83 Z" fill="#000"/>
<line x1="486.30" y1="110.50" x2="490.88" y2="107.20" stroke="#000" stroke-width="1.6" />
<path d="M494.20,104.80 L492.05,109.68 L488.89,105.30 Z" fill="#000"/>
<line x1="436.50" y1="123.60" x2="432.30" y2="127.80" stroke="#000" stroke-width="1.6" />
<path d="M429.40,130.70 L430.74,125.54 L434.56,129.36 Z" fill="#000"/>
<line x1="494.20" y1="125.70" x2="499.06" y2="130.44" stroke="#000" stroke-width="1.6" />
<path d="M502.00,133.30 L496.82,132.02 L500.59,128.16 Z" fill="#000"/>
<line x1="442.20" y1="133.90" x2="446.08" y2="138.87" stroke="#000" stroke-width="1.6" />
<path d="M448.60,142.10 L443.64,140.13 L447.90,136.81 Z" fill="#000"/>
<line x1="472.10" y1="135.70" x2="468.45" y2="139.75" stroke="#000" stroke-width="1.6" />
<path d="M465.70,142.80 L466.77,137.58 L470.79,141.19 Z" fill="#000"/>
<line x1="445.80" y1="116.50" x2="438.50" y2="116.50" stroke="#000" stroke-width="1.6" />
<path d="M434.40,116.50 L439.00,113.80 L439.00,119.20 Z" fill="#000"/>
<line x1="475.20" y1="117.60" x2="484.41" y2="118.29" stroke="#000" stroke-width="1.6" />
<path d="M488.50,118.60 L483.71,120.95 L484.12,115.56 Z" fill="#000"/>
<line x1="461.00" y1="117.00" x2="460.49" y2="116.07" stroke="#000" stroke-width="1.6" />
<path d="M458.80,113.00 L462.83,115.35 L458.62,117.66 Z" fill="#000"/>
<line x1="461.00" y1="117.00" x2="461.51" y2="117.93" stroke="#000" stroke-width="1.6" />
<path d="M463.20,121.00 L459.17,118.65 L463.38,116.34 Z" fill="#000"/>
<defs><radialGradient id="gy" cx="0.38" cy="0.35" r="0.7"><stop offset="0" stop-color="#ffffa0"/><stop offset="0.55" stop-color="#e2dc2a"/><stop offset="1" stop-color="#b8b010"/></radialGradient><radialGradient id="gb" cx="0.38" cy="0.35" r="0.7"><stop offset="0" stop-color="#a8e0ff"/><stop offset="0.55" stop-color="#3ca0e0"/><stop offset="1" stop-color="#2070b0"/></radialGradient></defs>
<circle cx="450.05" cy="98.7" r="4.1" fill="url(#gy)"/>
<circle cx="428.7" cy="108.2" r="4.1" fill="url(#gy)"/>
<circle cx="457.5" cy="108.7" r="4.1" fill="url(#gy)"/>
<circle cx="480.9" cy="99.4" r="4.1" fill="url(#gy)"/>
<circle cx="486.3" cy="110.5" r="4.1" fill="url(#gy)"/>
<circle cx="436.5" cy="123.6" r="4.1" fill="url(#gy)"/>
<circle cx="464.5" cy="125.3" r="4.1" fill="url(#gy)"/>
<circle cx="494.2" cy="125.7" r="4.1" fill="url(#gy)"/>
<circle cx="442.2" cy="133.9" r="4.1" fill="url(#gy)"/>
<circle cx="472.1" cy="135.7" r="4.1" fill="url(#gy)"/>
<circle cx="445.8" cy="116.5" r="3.7" fill="url(#gb)"/>
<circle cx="475.2" cy="117.6" r="3.7" fill="url(#gb)"/>
<text transform="translate(261.00,215.00) scale(1,1.0)" font-size="16" text-anchor="middle" fill="#000" font-family="Liberation Serif" font-weight="bold" >c</text>
<path d="M312.75,225.02 L313.88,230.07 L315.02,234.89 L316.15,239.51 L317.29,243.94 L318.42,248.17 L319.56,252.23 L320.69,256.11 L321.83,259.83 L322.96,263.39 L324.10,266.80 L325.24,270.06 L326.37,273.19 L327.50,276.18 L328.64,279.04 L329.77,281.78 L330.91,284.41 L332.05,286.92 L333.18,289.33 L334.31,291.64 L335.45,293.84 L336.58,295.96 L337.72,297.98 L338.86,299.92 L339.99,301.77 L341.12,303.55 L342.26,305.25 L343.39,306.87 L344.53,308.43 L345.67,309.92 L346.80,311.35 L347.94,312.72 L349.07,314.03 L350.20,315.28 L351.34,316.48 L352.48,317.63 L353.61,318.73 L354.75,319.79 L355.88,320.80 L357.02,321.76 L358.15,322.69 L359.29,323.57 L360.42,324.42 L361.56,325.23 L362.69,326.01 L363.83,326.75 L364.96,327.47 L366.10,328.15 L367.23,328.80 L368.37,329.43 L369.50,330.03 L370.64,330.60 L371.77,331.15 L372.91,331.67 L374.04,332.18 L375.18,332.66 L376.31,333.12 L377.45,333.56 L378.58,333.98 L379.72,334.39 L380.85,334.78 L381.99,335.15 L383.12,335.50 L384.26,335.84 L385.39,336.17 L386.53,336.48 L387.66,336.78 L388.80,337.07 L389.93,337.34 L391.07,337.60 L392.20,337.85 L393.34,338.09 L394.47,338.32 L395.61,338.54 L396.74,338.75 L397.88,338.96 L399.01,339.15 L400.15,339.33 L401.28,339.51 L402.42,339.68 L403.55,339.84 L404.69,340.00 L405.82,340.15 L406.96,340.29 L408.09,340.43 L409.23,340.56 L410.36,340.68 L411.50,340.80 L412.63,340.92 L413.77,341.03 L414.90,341.13 L416.04,341.23 L417.17,341.33 L418.31,341.42 L419.44,341.51 L420.58,341.60 L421.71,341.68 L422.85,341.75 L423.98,341.83 L425.12,341.90 L426.25,341.97 L427.39,342.03 L428.52,342.10 L429.66,342.15 L430.79,342.21 L431.93,342.27 L433.06,342.32 L434.20,342.37 L435.33,342.42 L436.47,342.46 L437.60,342.51 L438.74,342.55 L439.87,342.59 L441.01,342.63 L442.14,342.67 L443.28,342.70 L444.41,342.74 L445.55,342.77 L446.68,342.80 L447.82,342.83 L448.95,342.86 L450.09,342.89 L451.22,342.91 L452.36,342.94 L453.49,342.96 L454.63,342.98 L455.76,343.01 L456.90,343.03 L458.03,343.05 L459.17,343.07 L460.30,343.08 L461.44,343.10 L462.57,343.12 L463.71,343.14 L464.84,343.15 L465.98,343.17 L467.11,343.18 L468.25,343.19 L469.38,343.21 L470.52,343.22 L471.65,343.23" fill="none" stroke="#0c0cf0" stroke-width="1.2" stroke-linejoin="round" />
<path d="M312.75,227.27 L313.88,234.00 L315.02,240.40 L316.15,246.48 L317.29,252.26 L318.42,257.74 L319.56,262.95 L320.69,267.90 L321.83,272.61 L322.96,277.08 L324.10,281.32 L325.24,285.36 L326.37,289.19 L327.50,292.83 L328.64,296.28 L329.77,299.57 L330.91,302.69 L332.05,305.66 L333.18,308.47 L334.31,311.15 L335.45,313.69 L336.58,316.10 L337.72,318.40 L338.86,320.58 L339.99,322.65 L341.12,324.62 L342.26,326.49 L343.39,328.26 L344.53,329.95 L345.67,331.55 L346.80,333.07 L347.94,334.52 L349.07,335.89 L350.20,337.20 L351.34,338.44 L352.48,339.61 L353.61,340.73 L354.75,341.80 L355.88,342.81 L357.02,343.77 L358.15,344.68 L359.29,345.54 L360.42,346.37 L361.56,347.15 L362.69,347.89 L363.83,348.60 L364.96,349.27 L366.10,349.90 L367.23,350.51 L368.37,351.08 L369.50,351.63 L370.64,352.15 L371.77,352.64 L372.91,353.11 L374.04,353.55 L375.18,353.97 L376.31,354.37 L377.45,354.76 L378.58,355.12 L379.72,355.46 L380.85,355.79 L381.99,356.10 L383.12,356.39 L384.26,356.67 L385.39,356.94 L386.53,357.19 L387.66,357.43 L388.80,357.66 L389.93,357.88 L391.07,358.08 L392.20,358.28 L393.34,358.47 L394.47,358.64 L395.61,358.81 L396.74,358.97 L397.88,359.12 L399.01,359.27 L400.15,359.40 L401.28,359.53 L402.42,359.66 L403.55,359.77 L404.69,359.88 L405.82,359.99 L406.96,360.09 L408.09,360.19 L409.23,360.28 L410.36,360.36 L411.50,360.44 L412.63,360.52 L413.77,360.60 L414.90,360.67 L416.04,360.73 L417.17,360.80 L418.31,360.86 L419.44,360.91 L420.58,360.97 L421.71,361.02 L422.85,361.07 L423.98,361.12 L425.12,361.16 L426.25,361.20 L427.39,361.24 L428.52,361.28 L429.66,361.32 L430.79,361.35 L431.93,361.38 L433.06,361.41 L434.20,361.44 L435.33,361.47 L436.47,361.50 L437.60,361.52 L438.74,361.55 L439.87,361.57 L441.01,361.59 L442.14,361.61 L443.28,361.63 L444.41,361.65 L445.55,361.67 L446.68,361.68 L447.82,361.70 L448.95,361.71 L450.09,361.73 L451.22,361.74 L452.36,361.75 L453.49,361.77 L454.63,361.78 L455.76,361.79 L456.90,361.80 L458.03,361.81 L459.17,361.82 L460.30,361.83 L461.44,361.84 L462.57,361.85 L463.71,361.85 L464.84,361.86 L465.98,361.87 L467.11,361.87 L468.25,361.88 L469.38,361.89 L470.52,361.89 L471.65,361.90" fill="none" stroke="#ff10ff" stroke-width="1.2" stroke-linejoin="round" />
<line x1="312.75" y1="222.40" x2="312.75" y2="231.40" stroke="#ff10ff" stroke-width="0.6" />
<line x1="311.25" y1="222.40" x2="314.25" y2="222.40" stroke="#ff10ff" stroke-width="0.6" />
<line x1="311.25" y1="231.40" x2="314.25" y2="231.40" stroke="#ff10ff" stroke-width="0.6" />
<circle cx="312.75" cy="226.90" r="2.3" fill="#ff10ff"/>
<circle cx="312.05" cy="226.20" r="0.8" fill="#fff" fill-opacity="0.5"/>
<line x1="312.75" y1="232.70" x2="312.75" y2="241.70" stroke="#ff10ff" stroke-width="0.6" />
<line x1="311.25" y1="232.70" x2="314.25" y2="232.70" stroke="#ff10ff" stroke-width="0.6" />
<line x1="311.25" y1="241.70" x2="314.25" y2="241.70" stroke="#ff10ff" stroke-width="0.6" />
<circle cx="312.75" cy="237.20" r="2.3" fill="#ff10ff"/>
<circle cx="312.05" cy="236.50" r="0.8" fill="#fff" fill-opacity="0.5"/>
<line x1="324.10" y1="269.80" x2="324.10" y2="278.80" stroke="#ff10ff" stroke-width="0.6" />
<line x1="322.60" y1="269.80" x2="325.60" y2="269.80" stroke="#ff10ff" stroke-width="0.6" />
<line x1="322.60" y1="278.80" x2="325.60" y2="278.80" stroke="#ff10ff" stroke-width="0.6" />
<circle cx="324.10" cy="274.30" r="2.3" fill="#ff10ff"/>
<circle cx="323.40" cy="273.60" r="0.8" fill="#fff" fill-opacity="0.5"/>
<line x1="324.10" y1="279.30" x2="324.10" y2="288.30" stroke="#ff10ff" stroke-width="0.6" />
<line x1="322.60" y1="279.30" x2="325.60" y2="279.30" stroke="#ff10ff" stroke-width="0.6" />
<line x1="322.60" y1="288.30" x2="325.60" y2="288.30" stroke="#ff10ff" stroke-width="0.6" />
<circle cx="324.10" cy="283.80" r="2.3" fill="#ff10ff"/>
<circle cx="323.40" cy="283.10" r="0.8" fill="#fff" fill-opacity="0.5"/>
<line x1="335.45" y1="306.00" x2="335.45" y2="315.00" stroke="#ff10ff" stroke-width="0.6" />
<line x1="333.95" y1="306.00" x2="336.95" y2="306.00" stroke="#ff10ff" stroke-width="0.6" />
<line x1="333.95" y1="315.00" x2="336.95" y2="315.00" stroke="#ff10ff" stroke-width="0.6" />
<circle cx="335.45" cy="310.50" r="2.3" fill="#ff10ff"/>
<circle cx="334.75" cy="309.80" r="0.8" fill="#fff" fill-opacity="0.5"/>
<line x1="346.80" y1="321.75" x2="346.80" y2="330.75" stroke="#ff10ff" stroke-width="0.6" />
<line x1="345.30" y1="321.75" x2="348.30" y2="321.75" stroke="#ff10ff" stroke-width="0.6" />
<line x1="345.30" y1="330.75" x2="348.30" y2="330.75" stroke="#ff10ff" stroke-width="0.6" />
<circle cx="346.80" cy="326.25" r="2.3" fill="#ff10ff"/>
<circle cx="346.10" cy="325.55" r="0.8" fill="#fff" fill-opacity="0.5"/>
<line x1="346.80" y1="334.25" x2="346.80" y2="343.25" stroke="#ff10ff" stroke-width="0.6" />
<line x1="345.30" y1="334.25" x2="348.30" y2="334.25" stroke="#ff10ff" stroke-width="0.6" />
<line x1="345.30" y1="343.25" x2="348.30" y2="343.25" stroke="#ff10ff" stroke-width="0.6" />
<circle cx="346.80" cy="338.75" r="2.3" fill="#ff10ff"/>
<circle cx="346.10" cy="338.05" r="0.8" fill="#fff" fill-opacity="0.5"/>
<line x1="358.15" y1="333.50" x2="358.15" y2="342.50" stroke="#ff10ff" stroke-width="0.6" />
<line x1="356.65" y1="333.50" x2="359.65" y2="333.50" stroke="#ff10ff" stroke-width="0.6" />
<line x1="356.65" y1="342.50" x2="359.65" y2="342.50" stroke="#ff10ff" stroke-width="0.6" />
<circle cx="358.15" cy="338.00" r="2.3" fill="#ff10ff"/>
<circle cx="357.45" cy="337.30" r="0.8" fill="#fff" fill-opacity="0.5"/>
<line x1="358.15" y1="339.25" x2="358.15" y2="348.25" stroke="#ff10ff" stroke-width="0.6" />
<line x1="356.65" y1="339.25" x2="359.65" y2="339.25" stroke="#ff10ff" stroke-width="0.6" />
<line x1="356.65" y1="348.25" x2="359.65" y2="348.25" stroke="#ff10ff" stroke-width="0.6" />
<circle cx="358.15" cy="343.75" r="2.3" fill="#ff10ff"/>
<circle cx="357.45" cy="343.05" r="0.8" fill="#fff" fill-opacity="0.5"/>
<line x1="358.15" y1="346.00" x2="358.15" y2="355.00" stroke="#ff10ff" stroke-width="0.6" />
<line x1="356.65" y1="346.00" x2="359.65" y2="346.00" stroke="#ff10ff" stroke-width="0.6" />
<line x1="356.65" y1="355.00" x2="359.65" y2="355.00" stroke="#ff10ff" stroke-width="0.6" />
<circle cx="358.15" cy="350.50" r="2.3" fill="#ff10ff"/>
<circle cx="357.45" cy="349.80" r="0.8" fill="#fff" fill-opacity="0.5"/>
<line x1="369.50" y1="351.75" x2="369.50" y2="360.75" stroke="#ff10ff" stroke-width="0.6" />
<line x1="368.00" y1="351.75" x2="371.00" y2="351.75" stroke="#ff10ff" stroke-width="0.6" />
<line x1="368.00" y1="360.75" x2="371.00" y2="360.75" stroke="#ff10ff" stroke-width="0.6" />
<circle cx="369.50" cy="356.25" r="2.3" fill="#ff10ff"/>
<circle cx="368.80" cy="355.55" r="0.8" fill="#fff" fill-opacity="0.5"/>
<line x1="380.85" y1="347.50" x2="380.85" y2="356.50" stroke="#ff10ff" stroke-width="0.6" />
<line x1="379.35" y1="347.50" x2="382.35" y2="347.50" stroke="#ff10ff" stroke-width="0.6" />
<line x1="379.35" y1="356.50" x2="382.35" y2="356.50" stroke="#ff10ff" stroke-width="0.6" />
<circle cx="380.85" cy="352.00" r="2.3" fill="#ff10ff"/>
<circle cx="380.15" cy="351.30" r="0.8" fill="#fff" fill-opacity="0.5"/>
<line x1="380.85" y1="355.00" x2="380.85" y2="364.00" stroke="#ff10ff" stroke-width="0.6" />
<line x1="379.35" y1="355.00" x2="382.35" y2="355.00" stroke="#ff10ff" stroke-width="0.6" />
<line x1="379.35" y1="364.00" x2="382.35" y2="364.00" stroke="#ff10ff" stroke-width="0.6" />
<circle cx="380.85" cy="359.50" r="2.3" fill="#ff10ff"/>
<circle cx="380.15" cy="358.80" r="0.8" fill="#fff" fill-opacity="0.5"/>
<line x1="392.20" y1="353.50" x2="392.20" y2="362.50" stroke="#ff10ff" stroke-width="0.6" />
<line x1="390.70" y1="353.50" x2="393.70" y2="353.50" stroke="#ff10ff" stroke-width="0.6" />
<line x1="390.70" y1="362.50" x2="393.70" y2="362.50" stroke="#ff10ff" stroke-width="0.6" />
<circle cx="392.20" cy="358.00" r="2.3" fill="#ff10ff"/>
<circle cx="391.50" cy="357.30" r="0.8" fill="#fff" fill-opacity="0.5"/>
<line x1="403.55" y1="351.25" x2="403.55" y2="360.25" stroke="#ff10ff" stroke-width="0.6" />
<line x1="402.05" y1="351.25" x2="405.05" y2="351.25" stroke="#ff10ff" stroke-width="0.6" />
<line x1="402.05" y1="360.25" x2="405.05" y2="360.25" stroke="#ff10ff" stroke-width="0.6" />
<circle cx="403.55" cy="355.75" r="2.3" fill="#ff10ff"/>
<circle cx="402.85" cy="355.05" r="0.8" fill="#fff" fill-opacity="0.5"/>
<line x1="403.55" y1="357.50" x2="403.55" y2="366.50" stroke="#ff10ff" stroke-width="0.6" />
<line x1="402.05" y1="357.50" x2="405.05" y2="357.50" stroke="#ff10ff" stroke-width="0.6" />
<line x1="402.05" y1="366.50" x2="405.05" y2="366.50" stroke="#ff10ff" stroke-width="0.6" />
<circle cx="403.55" cy="362.00" r="2.3" fill="#ff10ff"/>
<circle cx="402.85" cy="361.30" r="0.8" fill="#fff" fill-opacity="0.5"/>
<line x1="414.90" y1="350.00" x2="414.90" y2="359.00" stroke="#ff10ff" stroke-width="0.6" />
<line x1="413.40" y1="350.00" x2="416.40" y2="350.00" stroke="#ff10ff" stroke-width="0.6" />
<line x1="413.40" y1="359.00" x2="416.40" y2="359.00" stroke="#ff10ff" stroke-width="0.6" />
<circle cx="414.90" cy="354.50" r="2.3" fill="#ff10ff"/>
<circle cx="414.20" cy="353.80" r="0.8" fill="#fff" fill-opacity="0.5"/>
<line x1="414.90" y1="356.10" x2="414.90" y2="365.10" stroke="#ff10ff" stroke-width="0.6" />
<line x1="413.40" y1="356.10" x2="416.40" y2="356.10" stroke="#ff10ff" stroke-width="0.6" />
<line x1="413.40" y1="365.10" x2="416.40" y2="365.10" stroke="#ff10ff" stroke-width="0.6" />
<circle cx="414.90" cy="360.60" r="2.3" fill="#ff10ff"/>
<circle cx="414.20" cy="359.90" r="0.8" fill="#fff" fill-opacity="0.5"/>
<line x1="426.25" y1="350.60" x2="426.25" y2="359.60" stroke="#ff10ff" stroke-width="0.6" />
<line x1="424.75" y1="350.60" x2="427.75" y2="350.60" stroke="#ff10ff" stroke-width="0.6" />
<line x1="424.75" y1="359.60" x2="427.75" y2="359.60" stroke="#ff10ff" stroke-width="0.6" />
<circle cx="426.25" cy="355.10" r="2.3" fill="#ff10ff"/>
<circle cx="425.55" cy="354.40" r="0.8" fill="#fff" fill-opacity="0.5"/>
<line x1="426.25" y1="357.20" x2="426.25" y2="366.20" stroke="#ff10ff" stroke-width="0.6" />
<line x1="424.75" y1="357.20" x2="427.75" y2="357.20" stroke="#ff10ff" stroke-width="0.6" />
<line x1="424.75" y1="366.20" x2="427.75" y2="366.20" stroke="#ff10ff" stroke-width="0.6" />
<circle cx="426.25" cy="361.70" r="2.3" fill="#ff10ff"/>
<circle cx="425.55" cy="361.00" r="0.8" fill="#fff" fill-opacity="0.5"/>
<line x1="437.60" y1="356.10" x2="437.60" y2="365.10" stroke="#ff10ff" stroke-width="0.6" />
<line x1="436.10" y1="356.10" x2="439.10" y2="356.10" stroke="#ff10ff" stroke-width="0.6" />
<line x1="436.10" y1="365.10" x2="439.10" y2="365.10" stroke="#ff10ff" stroke-width="0.6" />
<circle cx="437.60" cy="360.60" r="2.3" fill="#ff10ff"/>
<circle cx="436.90" cy="359.90" r="0.8" fill="#fff" fill-opacity="0.5"/>
<line x1="448.95" y1="360.30" x2="448.95" y2="369.30" stroke="#ff10ff" stroke-width="0.6" />
<line x1="447.45" y1="360.30" x2="450.45" y2="360.30" stroke="#ff10ff" stroke-width="0.6" />
<line x1="447.45" y1="369.30" x2="450.45" y2="369.30" stroke="#ff10ff" stroke-width="0.6" />
<circle cx="448.95" cy="364.80" r="2.3" fill="#ff10ff"/>
<circle cx="448.25" cy="364.10" r="0.8" fill="#fff" fill-opacity="0.5"/>
<line x1="460.30" y1="355.10" x2="460.30" y2="364.10" stroke="#ff10ff" stroke-width="0.6" />
<line x1="458.80" y1="355.10" x2="461.80" y2="355.10" stroke="#ff10ff" stroke-width="0.6" />
<line x1="458.80" y1="364.10" x2="461.80" y2="364.10" stroke="#ff10ff" stroke-width="0.6" />
<circle cx="460.30" cy="359.60" r="2.3" fill="#ff10ff"/>
<circle cx="459.60" cy="358.90" r="0.8" fill="#fff" fill-opacity="0.5"/>
<line x1="460.30" y1="361.70" x2="460.30" y2="370.70" stroke="#ff10ff" stroke-width="0.6" />
<line x1="458.80" y1="361.70" x2="461.80" y2="361.70" stroke="#ff10ff" stroke-width="0.6" />
<line x1="458.80" y1="370.70" x2="461.80" y2="370.70" stroke="#ff10ff" stroke-width="0.6" />
<circle cx="460.30" cy="366.20" r="2.3" fill="#ff10ff"/>
<circle cx="459.60" cy="365.50" r="0.8" fill="#fff" fill-opacity="0.5"/>
<line x1="471.65" y1="361.30" x2="471.65" y2="370.30" stroke="#ff10ff" stroke-width="0.6" />
<line x1="470.15" y1="361.30" x2="473.15" y2="361.30" stroke="#ff10ff" stroke-width="0.6" />
<line x1="470.15" y1="370.30" x2="473.15" y2="370.30" stroke="#ff10ff" stroke-width="0.6" />
<circle cx="471.65" cy="365.80" r="2.3" fill="#ff10ff"/>
<circle cx="470.95" cy="365.10" r="0.8" fill="#fff" fill-opacity="0.5"/>
<line x1="312.75" y1="220.50" x2="312.75" y2="229.50" stroke="#0c0cf0" stroke-width="0.6" />
<line x1="311.25" y1="220.50" x2="314.25" y2="220.50" stroke="#0c0cf0" stroke-width="0.6" />
<line x1="311.25" y1="229.50" x2="314.25" y2="229.50" stroke="#0c0cf0" stroke-width="0.6" />
<circle cx="312.75" cy="225.00" r="2.3" fill="#0c0cf0"/>
<circle cx="312.05" cy="224.30" r="0.8" fill="#fff" fill-opacity="0.5"/>
<line x1="312.75" y1="227.30" x2="312.75" y2="236.30" stroke="#0c0cf0" stroke-width="0.6" />
<line x1="311.25" y1="227.30" x2="314.25" y2="227.30" stroke="#0c0cf0" stroke-width="0.6" />
<line x1="311.25" y1="236.30" x2="314.25" y2="236.30" stroke="#0c0cf0" stroke-width="0.6" />
<circle cx="312.75" cy="231.80" r="2.3" fill="#0c0cf0"/>
<circle cx="312.05" cy="231.10" r="0.8" fill="#fff" fill-opacity="0.5"/>
<line x1="324.10" y1="255.70" x2="324.10" y2="264.70" stroke="#0c0cf0" stroke-width="0.6" />
<line x1="322.60" y1="255.70" x2="325.60" y2="255.70" stroke="#0c0cf0" stroke-width="0.6" />
<line x1="322.60" y1="264.70" x2="325.60" y2="264.70" stroke="#0c0cf0" stroke-width="0.6" />
<circle cx="324.10" cy="260.20" r="2.3" fill="#0c0cf0"/>
<circle cx="323.40" cy="259.50" r="0.8" fill="#fff" fill-opacity="0.5"/>
<line x1="324.10" y1="260.80" x2="324.10" y2="269.80" stroke="#0c0cf0" stroke-width="0.6" />
<line x1="322.60" y1="260.80" x2="325.60" y2="260.80" stroke="#0c0cf0" stroke-width="0.6" />
<line x1="322.60" y1="269.80" x2="325.60" y2="269.80" stroke="#0c0cf0" stroke-width="0.6" />
<circle cx="324.10" cy="265.30" r="2.3" fill="#0c0cf0"/>
<circle cx="323.40" cy="264.60" r="0.8" fill="#fff" fill-opacity="0.5"/>
<line x1="335.45" y1="289.30" x2="335.45" y2="298.30" stroke="#0c0cf0" stroke-width="0.6" />
<line x1="333.95" y1="289.30" x2="336.95" y2="289.30" stroke="#0c0cf0" stroke-width="0.6" />
<line x1="333.95" y1="298.30" x2="336.95" y2="298.30" stroke="#0c0cf0" stroke-width="0.6" />
<circle cx="335.45" cy="293.80" r="2.3" fill="#0c0cf0"/>
<circle cx="334.75" cy="293.10" r="0.8" fill="#fff" fill-opacity="0.5"/>
<line x1="346.80" y1="307.50" x2="346.80" y2="316.50" stroke="#0c0cf0" stroke-width="0.6" />
<line x1="345.30" y1="307.50" x2="348.30" y2="307.50" stroke="#0c0cf0" stroke-width="0.6" />
<line x1="345.30" y1="316.50" x2="348.30" y2="316.50" stroke="#0c0cf0" stroke-width="0.6" />
<circle cx="346.80" cy="312.00" r="2.3" fill="#0c0cf0"/>
<circle cx="346.10" cy="311.30" r="0.8" fill="#fff" fill-opacity="0.5"/>
<line x1="358.15" y1="314.25" x2="358.15" y2="323.25" stroke="#0c0cf0" stroke-width="0.6" />
<line x1="356.65" y1="314.25" x2="359.65" y2="314.25" stroke="#0c0cf0" stroke-width="0.6" />
<line x1="356.65" y1="323.25" x2="359.65" y2="323.25" stroke="#0c0cf0" stroke-width="0.6" />
<circle cx="358.15" cy="318.75" r="2.3" fill="#0c0cf0"/>
<circle cx="357.45" cy="318.05" r="0.8" fill="#fff" fill-opacity="0.5"/>
<line x1="358.15" y1="317.50" x2="358.15" y2="326.50" stroke="#0c0cf0" stroke-width="0.6" />
<line x1="356.65" y1="317.50" x2="359.65" y2="317.50" stroke="#0c0cf0" stroke-width="0.6" />
<line x1="356.65" y1="326.50" x2="359.65" y2="326.50" stroke="#0c0cf0" stroke-width="0.6" />
<circle cx="358.15" cy="322.00" r="2.3" fill="#0c0cf0"/>
<circle cx="357.45" cy="321.30" r="0.8" fill="#fff" fill-opacity="0.5"/>
<line x1="358.15" y1="324.25" x2="358.15" y2="333.25" stroke="#0c0cf0" stroke-width="0.6" />
<line x1="356.65" y1="324.25" x2="359.65" y2="324.25" stroke="#0c0cf0" stroke-width="0.6" />
<line x1="356.65" y1="333.25" x2="359.65" y2="333.25" stroke="#0c0cf0" stroke-width="0.6" />
<circle cx="358.15" cy="328.75" r="2.3" fill="#0c0cf0"/>
<circle cx="357.45" cy="328.05" r="0.8" fill="#fff" fill-opacity="0.5"/>
<line x1="369.50" y1="326.25" x2="369.50" y2="335.25" stroke="#0c0cf0" stroke-width="0.6" />
<line x1="368.00" y1="326.25" x2="371.00" y2="326.25" stroke="#0c0cf0" stroke-width="0.6" />
<line x1="368.00" y1="335.25" x2="371.00" y2="335.25" stroke="#0c0cf0" stroke-width="0.6" />
<circle cx="369.50" cy="330.75" r="2.3" fill="#0c0cf0"/>
<circle cx="368.80" cy="330.05" r="0.8" fill="#fff" fill-opacity="0.5"/>
<line x1="380.85" y1="330.00" x2="380.85" y2="339.00" stroke="#0c0cf0" stroke-width="0.6" />
<line x1="379.35" y1="330.00" x2="382.35" y2="330.00" stroke="#0c0cf0" stroke-width="0.6" />
<line x1="379.35" y1="339.00" x2="382.35" y2="339.00" stroke="#0c0cf0" stroke-width="0.6" />
<circle cx="380.85" cy="334.50" r="2.3" fill="#0c0cf0"/>
<circle cx="380.15" cy="333.80" r="0.8" fill="#fff" fill-opacity="0.5"/>
<line x1="380.85" y1="335.00" x2="380.85" y2="344.00" stroke="#0c0cf0" stroke-width="0.6" />
<line x1="379.35" y1="335.00" x2="382.35" y2="335.00" stroke="#0c0cf0" stroke-width="0.6" />
<line x1="379.35" y1="344.00" x2="382.35" y2="344.00" stroke="#0c0cf0" stroke-width="0.6" />
<circle cx="380.85" cy="339.50" r="2.3" fill="#0c0cf0"/>
<circle cx="380.15" cy="338.80" r="0.8" fill="#fff" fill-opacity="0.5"/>
<line x1="392.20" y1="336.25" x2="392.20" y2="345.25" stroke="#0c0cf0" stroke-width="0.6" />
<line x1="390.70" y1="336.25" x2="393.70" y2="336.25" stroke="#0c0cf0" stroke-width="0.6" />
<line x1="390.70" y1="345.25" x2="393.70" y2="345.25" stroke="#0c0cf0" stroke-width="0.6" />
<circle cx="392.20" cy="340.75" r="2.3" fill="#0c0cf0"/>
<circle cx="391.50" cy="340.05" r="0.8" fill="#fff" fill-opacity="0.5"/>
<line x1="403.55" y1="333.10" x2="403.55" y2="342.10" stroke="#0c0cf0" stroke-width="0.6" />
<line x1="402.05" y1="333.10" x2="405.05" y2="333.10" stroke="#0c0cf0" stroke-width="0.6" />
<line x1="402.05" y1="342.10" x2="405.05" y2="342.10" stroke="#0c0cf0" stroke-width="0.6" />
<circle cx="403.55" cy="337.60" r="2.3" fill="#0c0cf0"/>
<circle cx="402.85" cy="336.90" r="0.8" fill="#fff" fill-opacity="0.5"/>
<line x1="414.90" y1="330.90" x2="414.90" y2="339.90" stroke="#0c0cf0" stroke-width="0.6" />
<line x1="413.40" y1="330.90" x2="416.40" y2="330.90" stroke="#0c0cf0" stroke-width="0.6" />
<line x1="413.40" y1="339.90" x2="416.40" y2="339.90" stroke="#0c0cf0" stroke-width="0.6" />
<circle cx="414.90" cy="335.40" r="2.3" fill="#0c0cf0"/>
<circle cx="414.20" cy="334.70" r="0.8" fill="#fff" fill-opacity="0.5"/>
<line x1="414.90" y1="335.00" x2="414.90" y2="344.00" stroke="#0c0cf0" stroke-width="0.6" />
<line x1="413.40" y1="335.00" x2="416.40" y2="335.00" stroke="#0c0cf0" stroke-width="0.6" />
<line x1="413.40" y1="344.00" x2="416.40" y2="344.00" stroke="#0c0cf0" stroke-width="0.6" />
<circle cx="414.90" cy="339.50" r="2.3" fill="#0c0cf0"/>
<circle cx="414.20" cy="338.80" r="0.8" fill="#fff" fill-opacity="0.5"/>
<line x1="426.25" y1="333.50" x2="426.25" y2="342.50" stroke="#0c0cf0" stroke-width="0.6" />
<line x1="424.75" y1="333.50" x2="427.75" y2="333.50" stroke="#0c0cf0" stroke-width="0.6" />
<line x1="424.75" y1="342.50" x2="427.75" y2="342.50" stroke="#0c0cf0" stroke-width="0.6" />
<circle cx="426.25" cy="338.00" r="2.3" fill="#0c0cf0"/>
<circle cx="425.55" cy="337.30" r="0.8" fill="#fff" fill-opacity="0.5"/>
<line x1="426.25" y1="335.50" x2="426.25" y2="344.50" stroke="#0c0cf0" stroke-width="0.6" />
<line x1="424.75" y1="335.50" x2="427.75" y2="335.50" stroke="#0c0cf0" stroke-width="0.6" />
<line x1="424.75" y1="344.50" x2="427.75" y2="344.50" stroke="#0c0cf0" stroke-width="0.6" />
<circle cx="426.25" cy="340.00" r="2.3" fill="#0c0cf0"/>
<circle cx="425.55" cy="339.30" r="0.8" fill="#fff" fill-opacity="0.5"/>
<line x1="437.60" y1="338.70" x2="437.60" y2="347.70" stroke="#0c0cf0" stroke-width="0.6" />
<line x1="436.10" y1="338.70" x2="439.10" y2="338.70" stroke="#0c0cf0" stroke-width="0.6" />
<line x1="436.10" y1="347.70" x2="439.10" y2="347.70" stroke="#0c0cf0" stroke-width="0.6" />
<circle cx="437.60" cy="343.20" r="2.3" fill="#0c0cf0"/>
<circle cx="436.90" cy="342.50" r="0.8" fill="#fff" fill-opacity="0.5"/>
<line x1="448.95" y1="336.20" x2="448.95" y2="345.20" stroke="#0c0cf0" stroke-width="0.6" />
<line x1="447.45" y1="336.20" x2="450.45" y2="336.20" stroke="#0c0cf0" stroke-width="0.6" />
<line x1="447.45" y1="345.20" x2="450.45" y2="345.20" stroke="#0c0cf0" stroke-width="0.6" />
<circle cx="448.95" cy="340.70" r="2.3" fill="#0c0cf0"/>
<circle cx="448.25" cy="340.00" r="0.8" fill="#fff" fill-opacity="0.5"/>
<line x1="460.30" y1="342.80" x2="460.30" y2="351.80" stroke="#0c0cf0" stroke-width="0.6" />
<line x1="458.80" y1="342.80" x2="461.80" y2="342.80" stroke="#0c0cf0" stroke-width="0.6" />
<line x1="458.80" y1="351.80" x2="461.80" y2="351.80" stroke="#0c0cf0" stroke-width="0.6" />
<circle cx="460.30" cy="347.30" r="2.3" fill="#0c0cf0"/>
<circle cx="459.60" cy="346.60" r="0.8" fill="#fff" fill-opacity="0.5"/>
<line x1="471.65" y1="342.40" x2="471.65" y2="351.40" stroke="#0c0cf0" stroke-width="0.6" />
<line x1="470.15" y1="342.40" x2="473.15" y2="342.40" stroke="#0c0cf0" stroke-width="0.6" />
<line x1="470.15" y1="351.40" x2="473.15" y2="351.40" stroke="#0c0cf0" stroke-width="0.6" />
<circle cx="471.65" cy="346.90" r="2.3" fill="#0c0cf0"/>
<circle cx="470.95" cy="346.20" r="0.8" fill="#fff" fill-opacity="0.5"/>
<line x1="495.30" y1="360.30" x2="495.30" y2="369.30" stroke="#ff10ff" stroke-width="0.6" />
<line x1="493.80" y1="360.30" x2="496.80" y2="360.30" stroke="#ff10ff" stroke-width="0.6" />
<line x1="493.80" y1="369.30" x2="496.80" y2="369.30" stroke="#ff10ff" stroke-width="0.6" />
<circle cx="495.30" cy="364.80" r="2.3" fill="#ff10ff"/>
<circle cx="494.60" cy="364.10" r="0.8" fill="#fff" fill-opacity="0.5"/>
<line x1="495.30" y1="341.10" x2="495.30" y2="350.10" stroke="#0c0cf0" stroke-width="0.6" />
<line x1="493.80" y1="341.10" x2="496.80" y2="341.10" stroke="#0c0cf0" stroke-width="0.6" />
<line x1="493.80" y1="350.10" x2="496.80" y2="350.10" stroke="#0c0cf0" stroke-width="0.6" />
<circle cx="495.30" cy="345.60" r="2.3" fill="#0c0cf0"/>
<circle cx="494.60" cy="344.90" r="0.8" fill="#fff" fill-opacity="0.5"/>
<line x1="301.40" y1="206.30" x2="504.60" y2="206.30" stroke="#555" stroke-width="1.4" />
<line x1="301.40" y1="372.30" x2="504.60" y2="372.30" stroke="#555" stroke-width="1.4" />
<line x1="301.40" y1="206.30" x2="301.40" y2="372.30" stroke="#0c0cf0" stroke-width="1.2" />
<line x1="504.60" y1="206.30" x2="504.60" y2="372.30" stroke="#ff10ff" stroke-width="1.0" />
<rect x="481.1" y="203.3" width="7" height="6" fill="#fff"/>
<line x1="480.60" y1="209.30" x2="484.10" y2="203.30" stroke="#333" stroke-width="0.9" />
<line x1="484.10" y1="209.30" x2="487.60" y2="203.30" stroke="#333" stroke-width="0.9" />
<rect x="481.1" y="369.3" width="7" height="6" fill="#fff"/>
<line x1="480.60" y1="375.30" x2="484.10" y2="369.30" stroke="#333" stroke-width="0.9" />
<line x1="484.10" y1="375.30" x2="487.60" y2="369.30" stroke="#333" stroke-width="0.9" />
<line x1="329.77" y1="372.30" x2="329.77" y2="370.30" stroke="#333" stroke-width="1.1" />
<line x1="358.15" y1="372.30" x2="358.15" y2="368.30" stroke="#333" stroke-width="1.1" />
<line x1="386.52" y1="372.30" x2="386.52" y2="370.30" stroke="#333" stroke-width="1.1" />
<line x1="414.90" y1="372.30" x2="414.90" y2="368.30" stroke="#333" stroke-width="1.1" />
<line x1="443.27" y1="372.30" x2="443.27" y2="370.30" stroke="#333" stroke-width="1.1" />
<line x1="471.65" y1="372.30" x2="471.65" y2="368.30" stroke="#333" stroke-width="1.1" />
<line x1="495.30" y1="372.30" x2="495.30" y2="368.30" stroke="#333" stroke-width="1.1" />
<text transform="translate(301.40,384.60) scale(1,1.13)" font-size="10.5" text-anchor="middle" fill="#000" font-family="Liberation Serif" font-weight="bold" >0</text>
<text transform="translate(358.15,384.60) scale(1,1.13)" font-size="10.5" text-anchor="middle" fill="#000" font-family="Liberation Serif" font-weight="bold" >5</text>
<text transform="translate(414.90,384.60) scale(1,1.13)" font-size="10.5" text-anchor="middle" fill="#000" font-family="Liberation Serif" font-weight="bold" >10</text>
<text transform="translate(471.65,384.60) scale(1,1.13)" font-size="10.5" text-anchor="middle" fill="#000" font-family="Liberation Serif" font-weight="bold" >15</text>
<text transform="translate(496.20,384.40) scale(1,1.13)" font-size="10.5" text-anchor="middle" fill="#000" font-family="Liberation Serif" font-weight="bold" >Bulk</text>
<text transform="translate(409.20,395.60) scale(1,1.13)" font-size="10.3" text-anchor="middle" fill="#000" font-family="Liberation Serif" font-weight="bold" >Layer Number (N)</text>
<line x1="301.40" y1="367.70" x2="303.40" y2="367.70" stroke="#0c0cf0" stroke-width="1.1" />
<line x1="301.40" y1="352.10" x2="305.40" y2="352.10" stroke="#0c0cf0" stroke-width="1.1" />
<line x1="301.40" y1="336.50" x2="303.40" y2="336.50" stroke="#0c0cf0" stroke-width="1.1" />
<line x1="301.40" y1="320.90" x2="305.40" y2="320.90" stroke="#0c0cf0" stroke-width="1.1" />
<line x1="301.40" y1="305.30" x2="303.40" y2="305.30" stroke="#0c0cf0" stroke-width="1.1" />
<line x1="301.40" y1="289.70" x2="305.40" y2="289.70" stroke="#0c0cf0" stroke-width="1.1" />
<line x1="301.40" y1="274.10" x2="303.40" y2="274.10" stroke="#0c0cf0" stroke-width="1.1" />
<line x1="301.40" y1="258.50" x2="305.40" y2="258.50" stroke="#0c0cf0" stroke-width="1.1" />
<line x1="301.40" y1="242.90" x2="303.40" y2="242.90" stroke="#0c0cf0" stroke-width="1.1" />
<line x1="301.40" y1="227.30" x2="305.40" y2="227.30" stroke="#0c0cf0" stroke-width="1.1" />
<line x1="301.40" y1="211.70" x2="303.40" y2="211.70" stroke="#0c0cf0" stroke-width="1.1" />
<text transform="translate(297.60,355.50) scale(1,1.02)" font-size="10" text-anchor="end" fill="#0c0cf0" font-family="Liberation Serif" font-weight="bold" >0.09</text>
<text transform="translate(297.60,324.30) scale(1,1.02)" font-size="10" text-anchor="end" fill="#0c0cf0" font-family="Liberation Serif" font-weight="bold" >0.12</text>
<text transform="translate(297.60,293.10) scale(1,1.02)" font-size="10" text-anchor="end" fill="#0c0cf0" font-family="Liberation Serif" font-weight="bold" >0.15</text>
<text transform="translate(297.60,261.90) scale(1,1.02)" font-size="10" text-anchor="end" fill="#0c0cf0" font-family="Liberation Serif" font-weight="bold" >0.18</text>
<text transform="translate(297.60,230.70) scale(1,1.02)" font-size="10" text-anchor="end" fill="#0c0cf0" font-family="Liberation Serif" font-weight="bold" >0.21</text>
<text transform="translate(275.2,290.3) rotate(-90) scale(1.0,1.1)" font-size="10.5" text-anchor="middle" font-family="Liberation Serif" fill="#0c0cf0" stroke="#0c0cf0" stroke-width="0.25">1/|q|</text>
<line x1="504.60" y1="371.18" x2="502.60" y2="371.18" stroke="#ff10ff" stroke-width="1.1" />
<line x1="504.60" y1="354.30" x2="500.60" y2="354.30" stroke="#ff10ff" stroke-width="1.1" />
<line x1="504.60" y1="337.43" x2="502.60" y2="337.43" stroke="#ff10ff" stroke-width="1.1" />
<line x1="504.60" y1="320.55" x2="500.60" y2="320.55" stroke="#ff10ff" stroke-width="1.1" />
<line x1="504.60" y1="303.68" x2="502.60" y2="303.68" stroke="#ff10ff" stroke-width="1.1" />
<line x1="504.60" y1="286.80" x2="500.60" y2="286.80" stroke="#ff10ff" stroke-width="1.1" />
<line x1="504.60" y1="269.93" x2="502.60" y2="269.93" stroke="#ff10ff" stroke-width="1.1" />
<line x1="504.60" y1="253.05" x2="500.60" y2="253.05" stroke="#ff10ff" stroke-width="1.1" />
<line x1="504.60" y1="236.18" x2="502.60" y2="236.18" stroke="#ff10ff" stroke-width="1.1" />
<line x1="504.60" y1="219.30" x2="500.60" y2="219.30" stroke="#ff10ff" stroke-width="1.1" />
<text transform="translate(508.40,358.20) scale(1,1.06)" font-size="10" text-anchor="start" fill="#ff10ff" font-family="Liberation Serif" font-weight="bold" >5.5</text>
<text transform="translate(508.40,324.45) scale(1,1.06)" font-size="10" text-anchor="start" fill="#ff10ff" font-family="Liberation Serif" font-weight="bold" >6.0</text>
<text transform="translate(508.40,290.70) scale(1,1.06)" font-size="10" text-anchor="start" fill="#ff10ff" font-family="Liberation Serif" font-weight="bold" >6.5</text>
<text transform="translate(508.40,256.95) scale(1,1.06)" font-size="10" text-anchor="start" fill="#ff10ff" font-family="Liberation Serif" font-weight="bold" >7.0</text>
<text transform="translate(508.40,223.20) scale(1,1.06)" font-size="10" text-anchor="start" fill="#ff10ff" font-family="Liberation Serif" font-weight="bold" >7.5</text>
<text transform="translate(529.6,288.2) rotate(-90)" font-size="10" text-anchor="middle" font-family="Liberation Serif" font-weight="bold" fill="#ff10ff">Γ (cm<tspan dy="-4" font-size="7">-1</tspan><tspan dy="4">)</tspan></text>
<circle cx="412.4" cy="219.10" r="2.3" fill="#0c0cf0"/>
<text transform="translate(421.20,222.50) scale(1,1.13)" font-size="9.9" text-anchor="start" fill="#000" font-family="Liberation Serif" font-weight="bold" >Experimental data</text>
<line x1="406.30" y1="231.73" x2="418.00" y2="231.73" stroke="#0c0cf0" stroke-width="1.2" />
<text transform="translate(421.20,235.13) scale(1,1.13)" font-size="9.9" text-anchor="start" fill="#000" font-family="Liberation Serif" font-weight="bold" >Exponential fitting</text>
<circle cx="412.4" cy="244.36" r="2.3" fill="#ff10ff"/>
<text transform="translate(421.20,247.76) scale(1,1.13)" font-size="9.9" text-anchor="start" fill="#000" font-family="Liberation Serif" font-weight="bold" >Experimental data</text>
<line x1="406.30" y1="256.99" x2="418.00" y2="256.99" stroke="#ff10ff" stroke-width="1.2" />
<text transform="translate(421.20,260.39) scale(1,1.13)" font-size="9.9" text-anchor="start" fill="#000" font-family="Liberation Serif" font-weight="bold" >Exponential fitting</text>
</svg></body></html>
